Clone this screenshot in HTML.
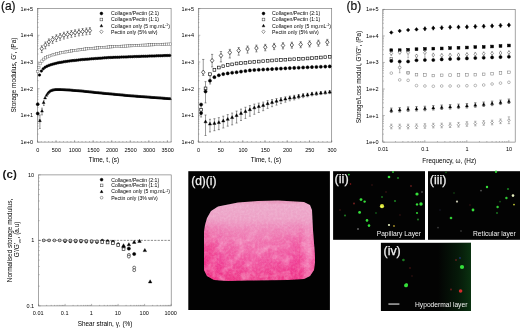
<!DOCTYPE html>
<html lang="en"><head><meta charset="utf-8"><title>Rheology and hydrogel figure</title>
<style>
html,body{margin:0;padding:0;background:#fff;}
body{width:520px;height:330px;overflow:hidden;}
svg{display:block;font-family:"Liberation Sans", sans-serif;}
</style></head><body>
<svg width="520" height="330" viewBox="0 0 520 330">
<defs>
<linearGradient id="pinkg" x1="0" y1="200" x2="0" y2="281" gradientUnits="userSpaceOnUse">
<stop offset="0" stop-color="#e48cb4"/><stop offset="0.06" stop-color="#eca8ca"/><stop offset="0.24" stop-color="#eda0c6"/>
<stop offset="0.36" stop-color="#ee84b8"/><stop offset="0.55" stop-color="#f068aa"/><stop offset="0.78" stop-color="#f04a9a"/><stop offset="1" stop-color="#ee3486"/>
</linearGradient>
<linearGradient id="pinkh" x1="204" y1="0" x2="316" y2="0" gradientUnits="userSpaceOnUse">
<stop offset="0" stop-color="#f01878" stop-opacity="0.5"/><stop offset="0.2" stop-color="#f01878" stop-opacity="0"/>
<stop offset="0.45" stop-color="#fff" stop-opacity="0.07"/><stop offset="0.7" stop-color="#f01878" stop-opacity="0"/>
<stop offset="0.86" stop-color="#f01878" stop-opacity="0.22"/><stop offset="0.93" stop-color="#fff" stop-opacity="0.22"/><stop offset="1" stop-color="#f01878" stop-opacity="0.25"/>
</linearGradient>
<linearGradient id="fm" x1="0" y1="218" x2="0" y2="246" gradientUnits="userSpaceOnUse"><stop offset="0" stop-color="#000"/><stop offset="1" stop-color="#fff"/></linearGradient>
<mask id="frontm" maskUnits="userSpaceOnUse" x="188" y="171" width="142" height="140"><rect x="188" y="171" width="142" height="140" fill="url(#fm)"/></mask>
<linearGradient id="haze" x1="438" y1="0" x2="471" y2="0" gradientUnits="userSpaceOnUse"><stop offset="0" stop-color="#0a3a12" stop-opacity="0"/><stop offset="0.6" stop-color="#0a3a12" stop-opacity="0.4"/><stop offset="1" stop-color="#0d4616" stop-opacity="0.7"/></linearGradient>
<filter id="pb" x="0" y="0" width="100%" height="100%" filterUnits="userSpaceOnUse"><feGaussianBlur stdDeviation="0.32"/></filter>
<filter id="soft" x="-5%" y="-5%" width="110%" height="110%"><feGaussianBlur stdDeviation="0.5"/></filter>
<filter id="glow" x="-5%" y="-5%" width="110%" height="110%"><feGaussianBlur stdDeviation="0.6"/></filter>
<filter id="mottle" x="0" y="0" width="100%" height="100%"><feTurbulence type="fractalNoise" baseFrequency="0.11" numOctaves="3" seed="9" result="n"/>
<feColorMatrix in="n" type="matrix" values="0 0 0 0 1  0 0 0 0 1  0 0 0 0 1  2.4 0 0 0 -1.05" result="a"/><feComposite in="a" in2="SourceGraphic" operator="in"/></filter>
<filter id="grain" x="0" y="0" width="100%" height="100%"><feTurbulence type="fractalNoise" baseFrequency="0.45" numOctaves="2" seed="4" result="n"/>
<feColorMatrix in="n" type="matrix" values="0 0 0 0 1  0 0 0 0 1  0 0 0 0 1  1.6 0 0 0 -0.55" result="a"/><feComposite in="a" in2="SourceGraphic" operator="in"/></filter>
</defs>
<g filter="url(#pb)">
<g id="plot-a-left">
<rect x="37.5" y="8.6" width="133.6" height="133.5" fill="none" stroke="#6e6e6e" stroke-width="0.62"/>
<text x="33" y="10.55" font-size="5.5" text-anchor="end" fill="#000">1e+5</text>
<text x="33" y="37.25" font-size="5.5" text-anchor="end" fill="#000">1e+4</text>
<text x="33" y="63.95" font-size="5.5" text-anchor="end" fill="#000">1e+3</text>
<text x="33" y="90.65" font-size="5.5" text-anchor="end" fill="#000">1e+2</text>
<text x="33" y="117.35" font-size="5.5" text-anchor="end" fill="#000">1e+1</text>
<text x="33" y="144.05" font-size="5.5" text-anchor="end" fill="#000">1e+0</text>
<path d="M37.5 8.6h2M37.5 35.3h2M37.5 62h2M37.5 88.7h2M37.5 115.4h2M37.5 142.1h2" stroke="#6e6e6e" stroke-width="0.5" fill="none"/>
<path d="M37.5 27.26h1M37.5 22.56h1M37.5 19.22h1M37.5 16.64h1M37.5 14.52h1M37.5 12.74h1M37.5 11.19h1M37.5 9.82h1M37.5 53.96h1M37.5 49.26h1M37.5 45.92h1M37.5 43.34h1M37.5 41.22h1M37.5 39.44h1M37.5 37.89h1M37.5 36.52h1M37.5 80.66h1M37.5 75.96h1M37.5 72.62h1M37.5 70.04h1M37.5 67.92h1M37.5 66.14h1M37.5 64.59h1M37.5 63.22h1M37.5 107.36h1M37.5 102.66h1M37.5 99.32h1M37.5 96.74h1M37.5 94.62h1M37.5 92.84h1M37.5 91.29h1M37.5 89.92h1M37.5 134.06h1M37.5 129.36h1M37.5 126.02h1M37.5 123.44h1M37.5 121.32h1M37.5 119.54h1M37.5 117.99h1M37.5 116.62h1" stroke="#6e6e6e" stroke-width="0.5" fill="none"/>
<text x="37.8" y="151.5" font-size="5.5" text-anchor="middle" fill="#000">0</text>
<text x="56.36" y="151.5" font-size="5.5" text-anchor="middle" fill="#000">500</text>
<text x="74.91" y="151.5" font-size="5.5" text-anchor="middle" fill="#000">1000</text>
<text x="93.47" y="151.5" font-size="5.5" text-anchor="middle" fill="#000">1500</text>
<text x="112.02" y="151.5" font-size="5.5" text-anchor="middle" fill="#000">2000</text>
<text x="130.58" y="151.5" font-size="5.5" text-anchor="middle" fill="#000">2500</text>
<text x="149.13" y="151.5" font-size="5.5" text-anchor="middle" fill="#000">3000</text>
<text x="167.69" y="151.5" font-size="5.5" text-anchor="middle" fill="#000">3500</text>
<path d="M37.5 142.1v-2M56.06 142.1v-2M74.61 142.1v-2M93.17 142.1v-2M111.72 142.1v-2M130.28 142.1v-2M148.83 142.1v-2M167.39 142.1v-2" stroke="#6e6e6e" stroke-width="0.5" fill="none"/>
<path d="M37.5 142.1v-1M41.21 142.1v-1M44.92 142.1v-1M48.63 142.1v-1M52.34 142.1v-1M56.06 142.1v-1M59.77 142.1v-1M63.48 142.1v-1M67.19 142.1v-1M70.9 142.1v-1M74.61 142.1v-1M78.32 142.1v-1M82.03 142.1v-1M85.74 142.1v-1M89.46 142.1v-1M93.17 142.1v-1M96.88 142.1v-1M100.59 142.1v-1M104.3 142.1v-1M108.01 142.1v-1M111.72 142.1v-1M115.43 142.1v-1M119.14 142.1v-1M122.86 142.1v-1M126.57 142.1v-1M130.28 142.1v-1M133.99 142.1v-1M137.7 142.1v-1M141.41 142.1v-1M145.12 142.1v-1M148.83 142.1v-1M152.54 142.1v-1M156.26 142.1v-1M159.97 142.1v-1M163.68 142.1v-1M167.39 142.1v-1M171.1 142.1v-1" stroke="#6e6e6e" stroke-width="0.5" fill="none"/>
<text x="104" y="162.3" font-size="6.4" text-anchor="middle" fill="#000">Time, t, (s)</text>
<text transform="translate(15.6 75) rotate(-90)" font-size="6.5" text-anchor="middle" fill="#000">Storage modulus, G', (Pa)</text>
<path d="M39.9 114.9V128.5M39.1 114.9h1.6M39.1 128.5h1.6" stroke="#333" stroke-width="0.5" fill="none"/>
<path d="M42 108.1V114.9M41.2 108.1h1.6M41.2 114.9h1.6" stroke="#333" stroke-width="0.5" fill="none"/>
<path d="M43.8 100.4V105.5M43 100.4h1.6M43 105.5h1.6" stroke="#333" stroke-width="0.5" fill="none"/>
<polygon points="38.45,121.67 41.35,121.67 39.9,119.06" fill="#000" stroke="#000" stroke-width="0.4"/><polygon points="40.55,112.07 43.45,112.07 42,109.46" fill="#000" stroke="#000" stroke-width="0.4"/><polygon points="42.15,103.61 45.05,103.61 43.6,101" fill="#000" stroke="#000" stroke-width="0.4"/><polygon points="43.65,98.92 46.55,98.92 45.1,96.31" fill="#000" stroke="#000" stroke-width="0.4"/><polygon points="45.1,96.32 47.7,96.32 46.4,93.98" fill="#000" stroke="#000" stroke-width="0.4"/><polygon points="46.03,94.84 48.63,94.84 47.33,92.5" fill="#000" stroke="#000" stroke-width="0.4"/><polygon points="46.96,93.54 49.56,93.54 48.26,91.2" fill="#000" stroke="#000" stroke-width="0.4"/><polygon points="47.89,92.74 50.49,92.74 49.19,90.4" fill="#000" stroke="#000" stroke-width="0.4"/><polygon points="48.82,91.95 51.42,91.95 50.12,89.61" fill="#000" stroke="#000" stroke-width="0.4"/><polygon points="49.75,91.57 52.35,91.57 51.05,89.23" fill="#000" stroke="#000" stroke-width="0.4"/><polygon points="50.68,91.2 53.28,91.2 51.98,88.86" fill="#000" stroke="#000" stroke-width="0.4"/><polygon points="51.61,90.9 54.21,90.9 52.91,88.56" fill="#000" stroke="#000" stroke-width="0.4"/><polygon points="52.54,90.76 55.14,90.76 53.84,88.42" fill="#000" stroke="#000" stroke-width="0.4"/><polygon points="53.47,90.61 56.07,90.61 54.77,88.27" fill="#000" stroke="#000" stroke-width="0.4"/><polygon points="54.4,90.46 57,90.46 55.7,88.12" fill="#000" stroke="#000" stroke-width="0.4"/><polygon points="55.33,90.45 57.93,90.45 56.63,88.11" fill="#000" stroke="#000" stroke-width="0.4"/><polygon points="56.26,90.45 58.86,90.45 57.56,88.11" fill="#000" stroke="#000" stroke-width="0.4"/><polygon points="57.19,90.45 59.79,90.45 58.49,88.11" fill="#000" stroke="#000" stroke-width="0.4"/><polygon points="58.12,90.45 60.72,90.45 59.42,88.11" fill="#000" stroke="#000" stroke-width="0.4"/><polygon points="59.05,90.45 61.65,90.45 60.35,88.11" fill="#000" stroke="#000" stroke-width="0.4"/><polygon points="59.98,90.48 62.58,90.48 61.28,88.14" fill="#000" stroke="#000" stroke-width="0.4"/><polygon points="60.91,90.54 63.51,90.54 62.21,88.2" fill="#000" stroke="#000" stroke-width="0.4"/><polygon points="61.84,90.59 64.44,90.59 63.14,88.25" fill="#000" stroke="#000" stroke-width="0.4"/><polygon points="62.77,90.64 65.37,90.64 64.07,88.3" fill="#000" stroke="#000" stroke-width="0.4"/><polygon points="63.7,90.7 66.3,90.7 65,88.36" fill="#000" stroke="#000" stroke-width="0.4"/><polygon points="64.63,90.75 67.23,90.75 65.93,88.41" fill="#000" stroke="#000" stroke-width="0.4"/><polygon points="65.56,90.8 68.16,90.8 66.86,88.46" fill="#000" stroke="#000" stroke-width="0.4"/><polygon points="66.49,90.86 69.09,90.86 67.79,88.52" fill="#000" stroke="#000" stroke-width="0.4"/><polygon points="67.42,90.91 70.02,90.91 68.72,88.57" fill="#000" stroke="#000" stroke-width="0.4"/><polygon points="68.35,90.97 70.95,90.97 69.65,88.62" fill="#000" stroke="#000" stroke-width="0.4"/><polygon points="69.28,91.04 71.88,91.04 70.58,88.7" fill="#000" stroke="#000" stroke-width="0.4"/><polygon points="70.21,91.11 72.81,91.11 71.51,88.77" fill="#000" stroke="#000" stroke-width="0.4"/><polygon points="71.14,91.19 73.74,91.19 72.44,88.85" fill="#000" stroke="#000" stroke-width="0.4"/><polygon points="72.07,91.26 74.67,91.26 73.37,88.92" fill="#000" stroke="#000" stroke-width="0.4"/><polygon points="73,91.34 75.6,91.34 74.3,89" fill="#000" stroke="#000" stroke-width="0.4"/><polygon points="73.93,91.41 76.53,91.41 75.23,89.07" fill="#000" stroke="#000" stroke-width="0.4"/><polygon points="74.86,91.49 77.46,91.49 76.16,89.15" fill="#000" stroke="#000" stroke-width="0.4"/><polygon points="75.79,91.56 78.39,91.56 77.09,89.22" fill="#000" stroke="#000" stroke-width="0.4"/><polygon points="76.72,91.63 79.32,91.63 78.02,89.29" fill="#000" stroke="#000" stroke-width="0.4"/><polygon points="77.65,91.71 80.25,91.71 78.95,89.37" fill="#000" stroke="#000" stroke-width="0.4"/><polygon points="78.58,91.78 81.18,91.78 79.88,89.44" fill="#000" stroke="#000" stroke-width="0.4"/><polygon points="79.51,91.86 82.11,91.86 80.81,89.52" fill="#000" stroke="#000" stroke-width="0.4"/><polygon points="80.44,91.93 83.04,91.93 81.74,89.59" fill="#000" stroke="#000" stroke-width="0.4"/><polygon points="81.37,92.02 83.97,92.02 82.67,89.68" fill="#000" stroke="#000" stroke-width="0.4"/><polygon points="82.3,92.12 84.9,92.12 83.6,89.78" fill="#000" stroke="#000" stroke-width="0.4"/><polygon points="83.23,92.22 85.83,92.22 84.53,89.88" fill="#000" stroke="#000" stroke-width="0.4"/><polygon points="84.16,92.32 86.76,92.32 85.46,89.98" fill="#000" stroke="#000" stroke-width="0.4"/><polygon points="85.09,92.42 87.69,92.42 86.39,90.08" fill="#000" stroke="#000" stroke-width="0.4"/><polygon points="86.02,92.52 88.62,92.52 87.32,90.18" fill="#000" stroke="#000" stroke-width="0.4"/><polygon points="86.95,92.62 89.55,92.62 88.25,90.28" fill="#000" stroke="#000" stroke-width="0.4"/><polygon points="87.88,92.72 90.48,92.72 89.18,90.38" fill="#000" stroke="#000" stroke-width="0.4"/><polygon points="88.81,92.82 91.41,92.82 90.11,90.48" fill="#000" stroke="#000" stroke-width="0.4"/><polygon points="89.74,92.92 92.34,92.92 91.04,90.58" fill="#000" stroke="#000" stroke-width="0.4"/><polygon points="90.67,93.02 93.27,93.02 91.97,90.68" fill="#000" stroke="#000" stroke-width="0.4"/><polygon points="91.6,93.12 94.2,93.12 92.9,90.78" fill="#000" stroke="#000" stroke-width="0.4"/><polygon points="92.53,93.21 95.13,93.21 93.83,90.87" fill="#000" stroke="#000" stroke-width="0.4"/><polygon points="93.46,93.31 96.06,93.31 94.76,90.97" fill="#000" stroke="#000" stroke-width="0.4"/><polygon points="94.39,93.41 96.99,93.41 95.69,91.07" fill="#000" stroke="#000" stroke-width="0.4"/><polygon points="95.32,93.51 97.92,93.51 96.62,91.17" fill="#000" stroke="#000" stroke-width="0.4"/><polygon points="96.25,93.6 98.85,93.6 97.55,91.26" fill="#000" stroke="#000" stroke-width="0.4"/><polygon points="97.18,93.69 99.78,93.69 98.48,91.35" fill="#000" stroke="#000" stroke-width="0.4"/><polygon points="98.11,93.78 100.71,93.78 99.41,91.44" fill="#000" stroke="#000" stroke-width="0.4"/><polygon points="99.04,93.87 101.64,93.87 100.34,91.53" fill="#000" stroke="#000" stroke-width="0.4"/><polygon points="99.97,93.95 102.57,93.95 101.27,91.61" fill="#000" stroke="#000" stroke-width="0.4"/><polygon points="100.9,94.04 103.5,94.04 102.2,91.7" fill="#000" stroke="#000" stroke-width="0.4"/><polygon points="101.83,94.13 104.43,94.13 103.13,91.79" fill="#000" stroke="#000" stroke-width="0.4"/><polygon points="102.76,94.22 105.36,94.22 104.06,91.88" fill="#000" stroke="#000" stroke-width="0.4"/><polygon points="103.69,94.3 106.29,94.3 104.99,91.96" fill="#000" stroke="#000" stroke-width="0.4"/><polygon points="104.62,94.39 107.22,94.39 105.92,92.05" fill="#000" stroke="#000" stroke-width="0.4"/><polygon points="105.55,94.48 108.15,94.48 106.85,92.14" fill="#000" stroke="#000" stroke-width="0.4"/><polygon points="106.48,94.57 109.08,94.57 107.78,92.23" fill="#000" stroke="#000" stroke-width="0.4"/><polygon points="107.41,94.65 110.01,94.65 108.71,92.31" fill="#000" stroke="#000" stroke-width="0.4"/><polygon points="108.34,94.74 110.94,94.74 109.64,92.4" fill="#000" stroke="#000" stroke-width="0.4"/><polygon points="109.27,94.83 111.87,94.83 110.57,92.49" fill="#000" stroke="#000" stroke-width="0.4"/><polygon points="110.2,94.92 112.8,94.92 111.5,92.58" fill="#000" stroke="#000" stroke-width="0.4"/><polygon points="111.13,95 113.73,95 112.43,92.66" fill="#000" stroke="#000" stroke-width="0.4"/><polygon points="112.06,95.09 114.66,95.09 113.36,92.75" fill="#000" stroke="#000" stroke-width="0.4"/><polygon points="112.99,95.18 115.59,95.18 114.29,92.84" fill="#000" stroke="#000" stroke-width="0.4"/><polygon points="113.92,95.26 116.52,95.26 115.22,92.92" fill="#000" stroke="#000" stroke-width="0.4"/><polygon points="114.85,95.35 117.45,95.35 116.15,93.01" fill="#000" stroke="#000" stroke-width="0.4"/><polygon points="115.78,95.44 118.38,95.44 117.08,93.1" fill="#000" stroke="#000" stroke-width="0.4"/><polygon points="116.71,95.53 119.31,95.53 118.01,93.19" fill="#000" stroke="#000" stroke-width="0.4"/><polygon points="117.64,95.61 120.24,95.61 118.94,93.27" fill="#000" stroke="#000" stroke-width="0.4"/><polygon points="118.57,95.7 121.17,95.7 119.87,93.36" fill="#000" stroke="#000" stroke-width="0.4"/><polygon points="119.5,95.79 122.1,95.79 120.8,93.45" fill="#000" stroke="#000" stroke-width="0.4"/><polygon points="120.43,95.88 123.03,95.88 121.73,93.54" fill="#000" stroke="#000" stroke-width="0.4"/><polygon points="121.36,95.96 123.96,95.96 122.66,93.62" fill="#000" stroke="#000" stroke-width="0.4"/><polygon points="122.29,96.05 124.89,96.05 123.59,93.71" fill="#000" stroke="#000" stroke-width="0.4"/><polygon points="123.22,96.14 125.82,96.14 124.52,93.8" fill="#000" stroke="#000" stroke-width="0.4"/><polygon points="124.15,96.23 126.75,96.23 125.45,93.89" fill="#000" stroke="#000" stroke-width="0.4"/><polygon points="125.08,96.31 127.68,96.31 126.38,93.97" fill="#000" stroke="#000" stroke-width="0.4"/><polygon points="126.01,96.4 128.61,96.4 127.31,94.06" fill="#000" stroke="#000" stroke-width="0.4"/><polygon points="126.94,96.49 129.54,96.49 128.24,94.15" fill="#000" stroke="#000" stroke-width="0.4"/><polygon points="127.87,96.58 130.47,96.58 129.17,94.24" fill="#000" stroke="#000" stroke-width="0.4"/><polygon points="128.8,96.66 131.4,96.66 130.1,94.32" fill="#000" stroke="#000" stroke-width="0.4"/><polygon points="129.73,96.73 132.33,96.73 131.03,94.39" fill="#000" stroke="#000" stroke-width="0.4"/><polygon points="130.66,96.8 133.26,96.8 131.96,94.46" fill="#000" stroke="#000" stroke-width="0.4"/><polygon points="131.59,96.87 134.19,96.87 132.89,94.53" fill="#000" stroke="#000" stroke-width="0.4"/><polygon points="132.52,96.94 135.12,96.94 133.82,94.6" fill="#000" stroke="#000" stroke-width="0.4"/><polygon points="133.45,97 136.05,97 134.75,94.66" fill="#000" stroke="#000" stroke-width="0.4"/><polygon points="134.38,97.07 136.98,97.07 135.68,94.73" fill="#000" stroke="#000" stroke-width="0.4"/><polygon points="135.31,97.14 137.91,97.14 136.61,94.8" fill="#000" stroke="#000" stroke-width="0.4"/><polygon points="136.24,97.21 138.84,97.21 137.54,94.87" fill="#000" stroke="#000" stroke-width="0.4"/><polygon points="137.17,97.28 139.77,97.28 138.47,94.94" fill="#000" stroke="#000" stroke-width="0.4"/><polygon points="138.1,97.35 140.7,97.35 139.4,95.01" fill="#000" stroke="#000" stroke-width="0.4"/><polygon points="139.03,97.42 141.63,97.42 140.33,95.08" fill="#000" stroke="#000" stroke-width="0.4"/><polygon points="139.96,97.49 142.56,97.49 141.26,95.15" fill="#000" stroke="#000" stroke-width="0.4"/><polygon points="140.89,97.56 143.49,97.56 142.19,95.22" fill="#000" stroke="#000" stroke-width="0.4"/><polygon points="141.82,97.62 144.42,97.62 143.12,95.28" fill="#000" stroke="#000" stroke-width="0.4"/><polygon points="142.75,97.69 145.35,97.69 144.05,95.35" fill="#000" stroke="#000" stroke-width="0.4"/><polygon points="143.68,97.76 146.28,97.76 144.98,95.42" fill="#000" stroke="#000" stroke-width="0.4"/><polygon points="144.61,97.83 147.21,97.83 145.91,95.49" fill="#000" stroke="#000" stroke-width="0.4"/><polygon points="145.54,97.9 148.14,97.9 146.84,95.56" fill="#000" stroke="#000" stroke-width="0.4"/><polygon points="146.47,97.97 149.07,97.97 147.77,95.63" fill="#000" stroke="#000" stroke-width="0.4"/><polygon points="147.4,98.04 150,98.04 148.7,95.7" fill="#000" stroke="#000" stroke-width="0.4"/><polygon points="148.33,98.11 150.93,98.11 149.63,95.77" fill="#000" stroke="#000" stroke-width="0.4"/><polygon points="149.26,98.18 151.86,98.18 150.56,95.84" fill="#000" stroke="#000" stroke-width="0.4"/><polygon points="150.19,98.24 152.79,98.24 151.49,95.9" fill="#000" stroke="#000" stroke-width="0.4"/><polygon points="151.12,98.31 153.72,98.31 152.42,95.97" fill="#000" stroke="#000" stroke-width="0.4"/><polygon points="152.05,98.38 154.65,98.38 153.35,96.04" fill="#000" stroke="#000" stroke-width="0.4"/><polygon points="152.98,98.45 155.58,98.45 154.28,96.11" fill="#000" stroke="#000" stroke-width="0.4"/><polygon points="153.91,98.52 156.51,98.52 155.21,96.18" fill="#000" stroke="#000" stroke-width="0.4"/><polygon points="154.84,98.59 157.44,98.59 156.14,96.25" fill="#000" stroke="#000" stroke-width="0.4"/><polygon points="155.77,98.66 158.37,98.66 157.07,96.32" fill="#000" stroke="#000" stroke-width="0.4"/><polygon points="156.7,98.73 159.3,98.73 158,96.39" fill="#000" stroke="#000" stroke-width="0.4"/><polygon points="157.63,98.8 160.23,98.8 158.93,96.46" fill="#000" stroke="#000" stroke-width="0.4"/><polygon points="158.56,98.86 161.16,98.86 159.86,96.52" fill="#000" stroke="#000" stroke-width="0.4"/><polygon points="159.49,98.93 162.09,98.93 160.79,96.59" fill="#000" stroke="#000" stroke-width="0.4"/><polygon points="160.42,99 163.02,99 161.72,96.66" fill="#000" stroke="#000" stroke-width="0.4"/><polygon points="161.35,99.07 163.95,99.07 162.65,96.73" fill="#000" stroke="#000" stroke-width="0.4"/><polygon points="162.28,99.14 164.88,99.14 163.58,96.8" fill="#000" stroke="#000" stroke-width="0.4"/><polygon points="163.21,99.21 165.81,99.21 164.51,96.87" fill="#000" stroke="#000" stroke-width="0.4"/><polygon points="164.14,99.28 166.74,99.28 165.44,96.94" fill="#000" stroke="#000" stroke-width="0.4"/><polygon points="165.07,99.35 167.67,99.35 166.37,97.01" fill="#000" stroke="#000" stroke-width="0.4"/><polygon points="166,99.42 168.6,99.42 167.3,97.08" fill="#000" stroke="#000" stroke-width="0.4"/><polygon points="166.93,99.48 169.53,99.48 168.23,97.14" fill="#000" stroke="#000" stroke-width="0.4"/><polygon points="167.86,99.55 170.46,99.55 169.16,97.21" fill="#000" stroke="#000" stroke-width="0.4"/><polygon points="168.79,99.62 171.39,99.62 170.09,97.28" fill="#000" stroke="#000" stroke-width="0.4"/>
<circle cx="37.7" cy="113.4" r="1.5" fill="#000" stroke="#000" stroke-width="0.5"/>
<circle cx="37.7" cy="104.2" r="1.5" fill="#000" stroke="#000" stroke-width="0.5"/>
<circle cx="39.5" cy="75" r="1.25" fill="#000" stroke="#000" stroke-width="0.5"/><circle cx="41.36" cy="71.08" r="1.25" fill="#000" stroke="#000" stroke-width="0.5"/><circle cx="43.22" cy="68.87" r="1.25" fill="#000" stroke="#000" stroke-width="0.5"/><circle cx="45.08" cy="67.27" r="1.25" fill="#000" stroke="#000" stroke-width="0.5"/><circle cx="46.94" cy="66.29" r="1.25" fill="#000" stroke="#000" stroke-width="0.5"/><circle cx="48.8" cy="65.42" r="1.25" fill="#000" stroke="#000" stroke-width="0.5"/><circle cx="50.66" cy="64.83" r="1.25" fill="#000" stroke="#000" stroke-width="0.5"/><circle cx="52.52" cy="64.23" r="1.25" fill="#000" stroke="#000" stroke-width="0.5"/><circle cx="54.38" cy="63.73" r="1.25" fill="#000" stroke="#000" stroke-width="0.5"/><circle cx="56.24" cy="63.28" r="1.25" fill="#000" stroke="#000" stroke-width="0.5"/><circle cx="58.1" cy="62.84" r="1.25" fill="#000" stroke="#000" stroke-width="0.5"/><circle cx="59.96" cy="62.43" r="1.25" fill="#000" stroke="#000" stroke-width="0.5"/><circle cx="61.82" cy="62.15" r="1.25" fill="#000" stroke="#000" stroke-width="0.5"/><circle cx="63.68" cy="61.87" r="1.25" fill="#000" stroke="#000" stroke-width="0.5"/><circle cx="65.54" cy="61.59" r="1.25" fill="#000" stroke="#000" stroke-width="0.5"/><circle cx="67.4" cy="61.31" r="1.25" fill="#000" stroke="#000" stroke-width="0.5"/><circle cx="69.26" cy="61.04" r="1.25" fill="#000" stroke="#000" stroke-width="0.5"/><circle cx="71.12" cy="60.82" r="1.25" fill="#000" stroke="#000" stroke-width="0.5"/><circle cx="72.98" cy="60.61" r="1.25" fill="#000" stroke="#000" stroke-width="0.5"/><circle cx="74.84" cy="60.4" r="1.25" fill="#000" stroke="#000" stroke-width="0.5"/><circle cx="76.7" cy="60.19" r="1.25" fill="#000" stroke="#000" stroke-width="0.5"/><circle cx="78.56" cy="59.99" r="1.25" fill="#000" stroke="#000" stroke-width="0.5"/><circle cx="80.42" cy="59.78" r="1.25" fill="#000" stroke="#000" stroke-width="0.5"/><circle cx="82.28" cy="59.58" r="1.25" fill="#000" stroke="#000" stroke-width="0.5"/><circle cx="84.14" cy="59.43" r="1.25" fill="#000" stroke="#000" stroke-width="0.5"/><circle cx="86" cy="59.28" r="1.25" fill="#000" stroke="#000" stroke-width="0.5"/><circle cx="87.86" cy="59.13" r="1.25" fill="#000" stroke="#000" stroke-width="0.5"/><circle cx="89.72" cy="58.98" r="1.25" fill="#000" stroke="#000" stroke-width="0.5"/><circle cx="91.58" cy="58.83" r="1.25" fill="#000" stroke="#000" stroke-width="0.5"/><circle cx="93.44" cy="58.68" r="1.25" fill="#000" stroke="#000" stroke-width="0.5"/><circle cx="95.3" cy="58.54" r="1.25" fill="#000" stroke="#000" stroke-width="0.5"/><circle cx="97.16" cy="58.39" r="1.25" fill="#000" stroke="#000" stroke-width="0.5"/><circle cx="99.02" cy="58.26" r="1.25" fill="#000" stroke="#000" stroke-width="0.5"/><circle cx="100.88" cy="58.13" r="1.25" fill="#000" stroke="#000" stroke-width="0.5"/><circle cx="102.74" cy="58" r="1.25" fill="#000" stroke="#000" stroke-width="0.5"/><circle cx="104.6" cy="57.87" r="1.25" fill="#000" stroke="#000" stroke-width="0.5"/><circle cx="106.46" cy="57.75" r="1.25" fill="#000" stroke="#000" stroke-width="0.5"/><circle cx="108.32" cy="57.62" r="1.25" fill="#000" stroke="#000" stroke-width="0.5"/><circle cx="110.18" cy="57.49" r="1.25" fill="#000" stroke="#000" stroke-width="0.5"/><circle cx="112.04" cy="57.43" r="1.25" fill="#000" stroke="#000" stroke-width="0.5"/><circle cx="113.9" cy="57.36" r="1.25" fill="#000" stroke="#000" stroke-width="0.5"/><circle cx="115.76" cy="57.29" r="1.25" fill="#000" stroke="#000" stroke-width="0.5"/><circle cx="117.62" cy="57.22" r="1.25" fill="#000" stroke="#000" stroke-width="0.5"/><circle cx="119.48" cy="57.15" r="1.25" fill="#000" stroke="#000" stroke-width="0.5"/><circle cx="121.34" cy="57.08" r="1.25" fill="#000" stroke="#000" stroke-width="0.5"/><circle cx="123.2" cy="57.02" r="1.25" fill="#000" stroke="#000" stroke-width="0.5"/><circle cx="125.06" cy="56.95" r="1.25" fill="#000" stroke="#000" stroke-width="0.5"/><circle cx="126.92" cy="56.88" r="1.25" fill="#000" stroke="#000" stroke-width="0.5"/><circle cx="128.78" cy="56.81" r="1.25" fill="#000" stroke="#000" stroke-width="0.5"/><circle cx="130.64" cy="56.74" r="1.25" fill="#000" stroke="#000" stroke-width="0.5"/><circle cx="132.5" cy="56.67" r="1.25" fill="#000" stroke="#000" stroke-width="0.5"/><circle cx="134.36" cy="56.61" r="1.25" fill="#000" stroke="#000" stroke-width="0.5"/><circle cx="136.22" cy="56.54" r="1.25" fill="#000" stroke="#000" stroke-width="0.5"/><circle cx="138.08" cy="56.47" r="1.25" fill="#000" stroke="#000" stroke-width="0.5"/><circle cx="139.94" cy="56.4" r="1.25" fill="#000" stroke="#000" stroke-width="0.5"/><circle cx="141.8" cy="56.34" r="1.25" fill="#000" stroke="#000" stroke-width="0.5"/><circle cx="143.66" cy="56.28" r="1.25" fill="#000" stroke="#000" stroke-width="0.5"/><circle cx="145.52" cy="56.22" r="1.25" fill="#000" stroke="#000" stroke-width="0.5"/><circle cx="147.38" cy="56.16" r="1.25" fill="#000" stroke="#000" stroke-width="0.5"/><circle cx="149.24" cy="56.1" r="1.25" fill="#000" stroke="#000" stroke-width="0.5"/><circle cx="151.1" cy="56.04" r="1.25" fill="#000" stroke="#000" stroke-width="0.5"/><circle cx="152.96" cy="55.98" r="1.25" fill="#000" stroke="#000" stroke-width="0.5"/><circle cx="154.82" cy="55.92" r="1.25" fill="#000" stroke="#000" stroke-width="0.5"/><circle cx="156.68" cy="55.86" r="1.25" fill="#000" stroke="#000" stroke-width="0.5"/><circle cx="158.54" cy="55.8" r="1.25" fill="#000" stroke="#000" stroke-width="0.5"/><circle cx="160.4" cy="55.74" r="1.25" fill="#000" stroke="#000" stroke-width="0.5"/><circle cx="162.26" cy="55.68" r="1.25" fill="#000" stroke="#000" stroke-width="0.5"/><circle cx="164.12" cy="55.62" r="1.25" fill="#000" stroke="#000" stroke-width="0.5"/><circle cx="165.98" cy="55.56" r="1.25" fill="#000" stroke="#000" stroke-width="0.5"/><circle cx="167.84" cy="55.5" r="1.25" fill="#000" stroke="#000" stroke-width="0.5"/><circle cx="169.7" cy="55.44" r="1.25" fill="#000" stroke="#000" stroke-width="0.5"/>
<rect x="36.65" y="70.37" width="2.3" height="2.3" fill="#fff" stroke="#555" stroke-width="0.4"/><rect x="37.75" y="66.35" width="2.3" height="2.3" fill="#fff" stroke="#555" stroke-width="0.4"/><rect x="38.95" y="62.6" width="2.3" height="2.3" fill="#fff" stroke="#555" stroke-width="0.4"/><rect x="40.81" y="59.91" width="2.3" height="2.3" fill="#fff" stroke="#555" stroke-width="0.4"/><rect x="42.67" y="58.03" width="2.3" height="2.3" fill="#fff" stroke="#555" stroke-width="0.4"/><rect x="44.53" y="56.72" width="2.3" height="2.3" fill="#fff" stroke="#555" stroke-width="0.4"/><rect x="46.39" y="55.73" width="2.3" height="2.3" fill="#fff" stroke="#555" stroke-width="0.4"/><rect x="48.25" y="54.95" width="2.3" height="2.3" fill="#fff" stroke="#555" stroke-width="0.4"/><rect x="50.11" y="54.3" width="2.3" height="2.3" fill="#fff" stroke="#555" stroke-width="0.4"/><rect x="51.97" y="53.65" width="2.3" height="2.3" fill="#fff" stroke="#555" stroke-width="0.4"/><rect x="53.83" y="53.14" width="2.3" height="2.3" fill="#fff" stroke="#555" stroke-width="0.4"/><rect x="55.69" y="52.65" width="2.3" height="2.3" fill="#fff" stroke="#555" stroke-width="0.4"/><rect x="57.55" y="52.16" width="2.3" height="2.3" fill="#fff" stroke="#555" stroke-width="0.4"/><rect x="59.41" y="51.75" width="2.3" height="2.3" fill="#fff" stroke="#555" stroke-width="0.4"/><rect x="61.27" y="51.41" width="2.3" height="2.3" fill="#fff" stroke="#555" stroke-width="0.4"/><rect x="63.13" y="51.07" width="2.3" height="2.3" fill="#fff" stroke="#555" stroke-width="0.4"/><rect x="64.99" y="50.72" width="2.3" height="2.3" fill="#fff" stroke="#555" stroke-width="0.4"/><rect x="66.85" y="50.38" width="2.3" height="2.3" fill="#fff" stroke="#555" stroke-width="0.4"/><rect x="68.71" y="50.05" width="2.3" height="2.3" fill="#fff" stroke="#555" stroke-width="0.4"/><rect x="70.57" y="49.78" width="2.3" height="2.3" fill="#fff" stroke="#555" stroke-width="0.4"/><rect x="72.43" y="49.51" width="2.3" height="2.3" fill="#fff" stroke="#555" stroke-width="0.4"/><rect x="74.29" y="49.24" width="2.3" height="2.3" fill="#fff" stroke="#555" stroke-width="0.4"/><rect x="76.15" y="48.97" width="2.3" height="2.3" fill="#fff" stroke="#555" stroke-width="0.4"/><rect x="78.01" y="48.7" width="2.3" height="2.3" fill="#fff" stroke="#555" stroke-width="0.4"/><rect x="79.87" y="48.43" width="2.3" height="2.3" fill="#fff" stroke="#555" stroke-width="0.4"/><rect x="81.73" y="48.16" width="2.3" height="2.3" fill="#fff" stroke="#555" stroke-width="0.4"/><rect x="83.59" y="47.89" width="2.3" height="2.3" fill="#fff" stroke="#555" stroke-width="0.4"/><rect x="85.45" y="47.72" width="2.3" height="2.3" fill="#fff" stroke="#555" stroke-width="0.4"/><rect x="87.31" y="47.56" width="2.3" height="2.3" fill="#fff" stroke="#555" stroke-width="0.4"/><rect x="89.17" y="47.4" width="2.3" height="2.3" fill="#fff" stroke="#555" stroke-width="0.4"/><rect x="91.03" y="47.25" width="2.3" height="2.3" fill="#fff" stroke="#555" stroke-width="0.4"/><rect x="92.89" y="47.09" width="2.3" height="2.3" fill="#fff" stroke="#555" stroke-width="0.4"/><rect x="94.75" y="46.93" width="2.3" height="2.3" fill="#fff" stroke="#555" stroke-width="0.4"/><rect x="96.61" y="46.78" width="2.3" height="2.3" fill="#fff" stroke="#555" stroke-width="0.4"/><rect x="98.47" y="46.62" width="2.3" height="2.3" fill="#fff" stroke="#555" stroke-width="0.4"/><rect x="100.33" y="46.47" width="2.3" height="2.3" fill="#fff" stroke="#555" stroke-width="0.4"/><rect x="102.19" y="46.31" width="2.3" height="2.3" fill="#fff" stroke="#555" stroke-width="0.4"/><rect x="104.05" y="46.15" width="2.3" height="2.3" fill="#fff" stroke="#555" stroke-width="0.4"/><rect x="105.91" y="46" width="2.3" height="2.3" fill="#fff" stroke="#555" stroke-width="0.4"/><rect x="107.77" y="45.84" width="2.3" height="2.3" fill="#fff" stroke="#555" stroke-width="0.4"/><rect x="109.63" y="45.71" width="2.3" height="2.3" fill="#fff" stroke="#555" stroke-width="0.4"/><rect x="111.49" y="45.61" width="2.3" height="2.3" fill="#fff" stroke="#555" stroke-width="0.4"/><rect x="113.35" y="45.51" width="2.3" height="2.3" fill="#fff" stroke="#555" stroke-width="0.4"/><rect x="115.21" y="45.41" width="2.3" height="2.3" fill="#fff" stroke="#555" stroke-width="0.4"/><rect x="117.07" y="45.31" width="2.3" height="2.3" fill="#fff" stroke="#555" stroke-width="0.4"/><rect x="118.93" y="45.21" width="2.3" height="2.3" fill="#fff" stroke="#555" stroke-width="0.4"/><rect x="120.79" y="45.11" width="2.3" height="2.3" fill="#fff" stroke="#555" stroke-width="0.4"/><rect x="122.65" y="45.01" width="2.3" height="2.3" fill="#fff" stroke="#555" stroke-width="0.4"/><rect x="124.51" y="44.91" width="2.3" height="2.3" fill="#fff" stroke="#555" stroke-width="0.4"/><rect x="126.37" y="44.82" width="2.3" height="2.3" fill="#fff" stroke="#555" stroke-width="0.4"/><rect x="128.23" y="44.72" width="2.3" height="2.3" fill="#fff" stroke="#555" stroke-width="0.4"/><rect x="130.09" y="44.62" width="2.3" height="2.3" fill="#fff" stroke="#555" stroke-width="0.4"/><rect x="131.95" y="44.52" width="2.3" height="2.3" fill="#fff" stroke="#555" stroke-width="0.4"/><rect x="133.81" y="44.42" width="2.3" height="2.3" fill="#fff" stroke="#555" stroke-width="0.4"/><rect x="135.67" y="44.32" width="2.3" height="2.3" fill="#fff" stroke="#555" stroke-width="0.4"/><rect x="137.53" y="44.22" width="2.3" height="2.3" fill="#fff" stroke="#555" stroke-width="0.4"/><rect x="139.39" y="44.13" width="2.3" height="2.3" fill="#fff" stroke="#555" stroke-width="0.4"/><rect x="141.25" y="44.05" width="2.3" height="2.3" fill="#fff" stroke="#555" stroke-width="0.4"/><rect x="143.11" y="43.97" width="2.3" height="2.3" fill="#fff" stroke="#555" stroke-width="0.4"/><rect x="144.97" y="43.89" width="2.3" height="2.3" fill="#fff" stroke="#555" stroke-width="0.4"/><rect x="146.83" y="43.82" width="2.3" height="2.3" fill="#fff" stroke="#555" stroke-width="0.4"/><rect x="148.69" y="43.74" width="2.3" height="2.3" fill="#fff" stroke="#555" stroke-width="0.4"/><rect x="150.55" y="43.66" width="2.3" height="2.3" fill="#fff" stroke="#555" stroke-width="0.4"/><rect x="152.41" y="43.58" width="2.3" height="2.3" fill="#fff" stroke="#555" stroke-width="0.4"/><rect x="154.27" y="43.5" width="2.3" height="2.3" fill="#fff" stroke="#555" stroke-width="0.4"/><rect x="156.13" y="43.43" width="2.3" height="2.3" fill="#fff" stroke="#555" stroke-width="0.4"/><rect x="157.99" y="43.35" width="2.3" height="2.3" fill="#fff" stroke="#555" stroke-width="0.4"/><rect x="159.85" y="43.27" width="2.3" height="2.3" fill="#fff" stroke="#555" stroke-width="0.4"/><rect x="161.71" y="43.19" width="2.3" height="2.3" fill="#fff" stroke="#555" stroke-width="0.4"/><rect x="163.57" y="43.11" width="2.3" height="2.3" fill="#fff" stroke="#555" stroke-width="0.4"/><rect x="165.43" y="43.04" width="2.3" height="2.3" fill="#fff" stroke="#555" stroke-width="0.4"/><rect x="167.29" y="42.96" width="2.3" height="2.3" fill="#fff" stroke="#555" stroke-width="0.4"/><rect x="169.15" y="42.88" width="2.3" height="2.3" fill="#fff" stroke="#555" stroke-width="0.4"/>
<path d="M41.75 45.75V52.55M40.75 45.75h2M40.75 52.55h2" stroke="#333" stroke-width="0.5" fill="none"/>
<path d="M45.4 42V48.8M44.4 42h2M44.4 48.8h2" stroke="#333" stroke-width="0.5" fill="none"/>
<path d="M48.9 38.9V45.7M47.9 38.9h2M47.9 45.7h2" stroke="#333" stroke-width="0.5" fill="none"/>
<path d="M52.6 36.6V43.4M51.6 36.6h2M51.6 43.4h2" stroke="#333" stroke-width="0.5" fill="none"/>
<path d="M56.4 34.75V41.55M55.4 34.75h2M55.4 41.55h2" stroke="#333" stroke-width="0.5" fill="none"/>
<path d="M60.1 33.5V40.3M59.1 33.5h2M59.1 40.3h2" stroke="#333" stroke-width="0.5" fill="none"/>
<path d="M63.9 32.25V39.05M62.9 32.25h2M62.9 39.05h2" stroke="#333" stroke-width="0.5" fill="none"/>
<path d="M67.6 31.4V38.2M66.6 31.4h2M66.6 38.2h2" stroke="#333" stroke-width="0.5" fill="none"/>
<path d="M71.4 30.5V37.3M70.4 30.5h2M70.4 37.3h2" stroke="#333" stroke-width="0.5" fill="none"/>
<path d="M75.1 29.75V36.55M74.1 29.75h2M74.1 36.55h2" stroke="#333" stroke-width="0.5" fill="none"/>
<path d="M78.9 29.1V35.9M77.9 29.1h2M77.9 35.9h2" stroke="#333" stroke-width="0.5" fill="none"/>
<path d="M82.6 28.5V35.3M81.6 28.5h2M81.6 35.3h2" stroke="#333" stroke-width="0.5" fill="none"/>
<path d="M86.4 28V34.8M85.4 28h2M85.4 34.8h2" stroke="#333" stroke-width="0.5" fill="none"/>
<path d="M89.9 27.6V34.4M88.9 27.6h2M88.9 34.4h2" stroke="#333" stroke-width="0.5" fill="none"/>
<polygon points="41.75,46.65 43.45,48.75 41.75,50.85 40.05,48.75" fill="#fff" stroke="#111" stroke-width="0.6"/>
<polygon points="45.4,42.9 47.1,45 45.4,47.1 43.7,45" fill="#fff" stroke="#111" stroke-width="0.6"/>
<polygon points="48.9,39.8 50.6,41.9 48.9,44 47.2,41.9" fill="#fff" stroke="#111" stroke-width="0.6"/>
<polygon points="52.6,37.5 54.3,39.6 52.6,41.7 50.9,39.6" fill="#fff" stroke="#111" stroke-width="0.6"/>
<polygon points="56.4,35.65 58.1,37.75 56.4,39.85 54.7,37.75" fill="#fff" stroke="#111" stroke-width="0.6"/>
<polygon points="60.1,34.4 61.8,36.5 60.1,38.6 58.4,36.5" fill="#fff" stroke="#111" stroke-width="0.6"/>
<polygon points="63.9,33.15 65.6,35.25 63.9,37.35 62.2,35.25" fill="#fff" stroke="#111" stroke-width="0.6"/>
<polygon points="67.6,32.3 69.3,34.4 67.6,36.5 65.9,34.4" fill="#fff" stroke="#111" stroke-width="0.6"/>
<polygon points="71.4,31.4 73.1,33.5 71.4,35.6 69.7,33.5" fill="#fff" stroke="#111" stroke-width="0.6"/>
<polygon points="75.1,30.65 76.8,32.75 75.1,34.85 73.4,32.75" fill="#fff" stroke="#111" stroke-width="0.6"/>
<polygon points="78.9,30 80.6,32.1 78.9,34.2 77.2,32.1" fill="#fff" stroke="#111" stroke-width="0.6"/>
<polygon points="82.6,29.4 84.3,31.5 82.6,33.6 80.9,31.5" fill="#fff" stroke="#111" stroke-width="0.6"/>
<polygon points="86.4,28.9 88.1,31 86.4,33.1 84.7,31" fill="#fff" stroke="#111" stroke-width="0.6"/>
<polygon points="89.9,28.5 91.6,30.6 89.9,32.7 88.2,30.6" fill="#fff" stroke="#111" stroke-width="0.6"/>
<circle cx="101.4" cy="13.5" r="1.4" fill="#000" stroke="#000" stroke-width="0.5"/>
<text x="111" y="15.3" font-size="5.15" text-anchor="start" fill="#000">Collagen/Pectin (2:1)</text>
<rect x="100.05" y="18.15" width="2.7" height="2.7" fill="#fff" stroke="#333" stroke-width="0.5"/>
<text x="111" y="21.3" font-size="5.15" text-anchor="start" fill="#000">Collagen/Pectin (1:1)</text>
<polygon points="100,26.83 102.8,26.83 101.4,24.31" fill="#000" stroke="#000" stroke-width="0.4"/>
<text x="111" y="27.5" font-size="5.15" text-anchor="start" fill="#000">Collagen only (5 mg.mL<tspan font-size="3.2" dy="-1.8">-1</tspan><tspan dy="1.8">)</tspan></text>
<polygon points="101.4,29.85 103.05,31.7 101.4,33.55 99.75,31.7" fill="#fff" stroke="#333" stroke-width="0.5"/>
<text x="111" y="33.5" font-size="5.15" text-anchor="start" fill="#000">Pectin only (5% w/v)</text>
</g>
<g id="plot-a-right">
<rect x="198.3" y="8.6" width="133.4" height="133.5" fill="none" stroke="#6e6e6e" stroke-width="0.62"/>
<text x="194" y="10.55" font-size="5.5" text-anchor="end" fill="#000">1e+5</text>
<text x="194" y="37.25" font-size="5.5" text-anchor="end" fill="#000">1e+4</text>
<text x="194" y="63.95" font-size="5.5" text-anchor="end" fill="#000">1e+3</text>
<text x="194" y="90.65" font-size="5.5" text-anchor="end" fill="#000">1e+2</text>
<text x="194" y="117.35" font-size="5.5" text-anchor="end" fill="#000">1e+1</text>
<text x="194" y="144.05" font-size="5.5" text-anchor="end" fill="#000">1e+0</text>
<path d="M198.3 8.6h2M198.3 35.3h2M198.3 62h2M198.3 88.7h2M198.3 115.4h2M198.3 142.1h2" stroke="#6e6e6e" stroke-width="0.5" fill="none"/>
<path d="M198.3 27.26h1M198.3 22.56h1M198.3 19.22h1M198.3 16.64h1M198.3 14.52h1M198.3 12.74h1M198.3 11.19h1M198.3 9.82h1M198.3 53.96h1M198.3 49.26h1M198.3 45.92h1M198.3 43.34h1M198.3 41.22h1M198.3 39.44h1M198.3 37.89h1M198.3 36.52h1M198.3 80.66h1M198.3 75.96h1M198.3 72.62h1M198.3 70.04h1M198.3 67.92h1M198.3 66.14h1M198.3 64.59h1M198.3 63.22h1M198.3 107.36h1M198.3 102.66h1M198.3 99.32h1M198.3 96.74h1M198.3 94.62h1M198.3 92.84h1M198.3 91.29h1M198.3 89.92h1M198.3 134.06h1M198.3 129.36h1M198.3 126.02h1M198.3 123.44h1M198.3 121.32h1M198.3 119.54h1M198.3 117.99h1M198.3 116.62h1" stroke="#6e6e6e" stroke-width="0.5" fill="none"/>
<text x="198.6" y="151.5" font-size="5.5" text-anchor="middle" fill="#000">0</text>
<text x="220.83" y="151.5" font-size="5.5" text-anchor="middle" fill="#000">50</text>
<text x="243.07" y="151.5" font-size="5.5" text-anchor="middle" fill="#000">100</text>
<text x="265.3" y="151.5" font-size="5.5" text-anchor="middle" fill="#000">150</text>
<text x="287.53" y="151.5" font-size="5.5" text-anchor="middle" fill="#000">200</text>
<text x="309.77" y="151.5" font-size="5.5" text-anchor="middle" fill="#000">250</text>
<text x="332" y="151.5" font-size="5.5" text-anchor="middle" fill="#000">300</text>
<path d="M198.3 142.1v-2M220.53 142.1v-2M242.77 142.1v-2M265 142.1v-2M287.23 142.1v-2M309.47 142.1v-2M331.7 142.1v-2" stroke="#6e6e6e" stroke-width="0.5" fill="none"/>
<path d="M198.3 142.1v-1M202.75 142.1v-1M207.19 142.1v-1M211.64 142.1v-1M216.09 142.1v-1M220.53 142.1v-1M224.98 142.1v-1M229.43 142.1v-1M233.87 142.1v-1M238.32 142.1v-1M242.77 142.1v-1M247.21 142.1v-1M251.66 142.1v-1M256.11 142.1v-1M260.55 142.1v-1M265 142.1v-1M269.45 142.1v-1M273.89 142.1v-1M278.34 142.1v-1M282.79 142.1v-1M287.23 142.1v-1M291.68 142.1v-1M296.13 142.1v-1M300.57 142.1v-1M305.02 142.1v-1M309.47 142.1v-1M313.91 142.1v-1M318.36 142.1v-1M322.81 142.1v-1M327.25 142.1v-1M331.7 142.1v-1" stroke="#6e6e6e" stroke-width="0.5" fill="none"/>
<text x="266" y="162.3" font-size="6.4" text-anchor="middle" fill="#000">Time, t, (s)</text>
<path d="M205.53 115V135.5M204.53 115h2M204.53 135.5h2" stroke="#333" stroke-width="0.5" fill="none"/>
<path d="M209.97 119.35V131.95M208.97 119.35h2M208.97 131.95h2" stroke="#333" stroke-width="0.5" fill="none"/>
<path d="M214.41 118.7V130.7M213.41 118.7h2M213.41 130.7h2" stroke="#333" stroke-width="0.5" fill="none"/>
<path d="M218.84 117.65V129.65M217.84 117.65h2M217.84 129.65h2" stroke="#333" stroke-width="0.5" fill="none"/>
<path d="M223.27 116.2V128M222.27 116.2h2M222.27 128h2" stroke="#333" stroke-width="0.5" fill="none"/>
<path d="M227.71 114.6V126.2M226.71 114.6h2M226.71 126.2h2" stroke="#333" stroke-width="0.5" fill="none"/>
<path d="M232.14 113.05V124.85M231.14 113.05h2M231.14 124.85h2" stroke="#333" stroke-width="0.5" fill="none"/>
<path d="M236.58 111.05V123.05M235.58 111.05h2M235.58 123.05h2" stroke="#333" stroke-width="0.5" fill="none"/>
<path d="M241.01 109.1V120.5M240.01 109.1h2M240.01 120.5h2" stroke="#333" stroke-width="0.5" fill="none"/>
<path d="M245.45 107.25V118.45M244.45 107.25h2M244.45 118.45h2" stroke="#333" stroke-width="0.5" fill="none"/>
<path d="M249.88 105.6V116.2M248.88 105.6h2M248.88 116.2h2" stroke="#333" stroke-width="0.5" fill="none"/>
<path d="M254.32 104.1V114.3M253.32 104.1h2M253.32 114.3h2" stroke="#333" stroke-width="0.5" fill="none"/>
<path d="M258.75 103.1V112.5M257.75 103.1h2M257.75 112.5h2" stroke="#333" stroke-width="0.5" fill="none"/>
<path d="M263.19 102.1V110.7M262.19 102.1h2M262.19 110.7h2" stroke="#333" stroke-width="0.5" fill="none"/>
<path d="M267.62 100.6V108.4M266.62 100.6h2M266.62 108.4h2" stroke="#333" stroke-width="0.5" fill="none"/>
<path d="M272.06 99.5V106.7M271.06 99.5h2M271.06 106.7h2" stroke="#333" stroke-width="0.5" fill="none"/>
<path d="M276.5 98.5V105.1M275.5 98.5h2M275.5 105.1h2" stroke="#333" stroke-width="0.5" fill="none"/>
<path d="M280.93 97.6V103.6M279.93 97.6h2M279.93 103.6h2" stroke="#333" stroke-width="0.5" fill="none"/>
<path d="M285.37 96.8V102.2M284.37 96.8h2M284.37 102.2h2" stroke="#333" stroke-width="0.5" fill="none"/>
<path d="M289.8 96V100.8M288.8 96h2M288.8 100.8h2" stroke="#333" stroke-width="0.5" fill="none"/>
<path d="M294.24 95.3V99.9M293.24 95.3h2M293.24 99.9h2" stroke="#333" stroke-width="0.5" fill="none"/>
<path d="M298.67 94.5V98.7M297.67 94.5h2M297.67 98.7h2" stroke="#333" stroke-width="0.5" fill="none"/>
<path d="M303.11 93.7V97.7M302.11 93.7h2M302.11 97.7h2" stroke="#333" stroke-width="0.5" fill="none"/>
<path d="M307.54 93.2V96.8M306.54 93.2h2M306.54 96.8h2" stroke="#333" stroke-width="0.5" fill="none"/>
<path d="M311.97 92.4V95.8M310.97 92.4h2M310.97 95.8h2" stroke="#333" stroke-width="0.5" fill="none"/>
<path d="M316.41 92.1V95.3M315.41 92.1h2M315.41 95.3h2" stroke="#333" stroke-width="0.5" fill="none"/>
<path d="M320.84 91.6V94.6M319.84 91.6h2M319.84 94.6h2" stroke="#333" stroke-width="0.5" fill="none"/>
<path d="M325.28 91.1V94.1M324.28 91.1h2M324.28 94.1h2" stroke="#333" stroke-width="0.5" fill="none"/>
<path d="M329.71 90.6V93.6M328.71 90.6h2M328.71 93.6h2" stroke="#333" stroke-width="0.5" fill="none"/>
<polygon points="203.94,122.8 207.13,122.8 205.53,119.92" fill="#000" stroke="#000" stroke-width="0.4"/>
<polygon points="208.37,125.05 211.57,125.05 209.97,122.17" fill="#000" stroke="#000" stroke-width="0.4"/>
<polygon points="212.81,124.4 216,124.4 214.41,121.52" fill="#000" stroke="#000" stroke-width="0.4"/>
<polygon points="217.24,123.55 220.44,123.55 218.84,120.67" fill="#000" stroke="#000" stroke-width="0.4"/>
<polygon points="221.67,121.9 224.87,121.9 223.27,119.02" fill="#000" stroke="#000" stroke-width="0.4"/>
<polygon points="226.11,120.3 229.31,120.3 227.71,117.42" fill="#000" stroke="#000" stroke-width="0.4"/>
<polygon points="230.54,118.55 233.74,118.55 232.14,115.67" fill="#000" stroke="#000" stroke-width="0.4"/>
<polygon points="234.98,116.55 238.18,116.55 236.58,113.67" fill="#000" stroke="#000" stroke-width="0.4"/>
<polygon points="239.41,114.4 242.61,114.4 241.01,111.52" fill="#000" stroke="#000" stroke-width="0.4"/>
<polygon points="243.85,112.55 247.05,112.55 245.45,109.67" fill="#000" stroke="#000" stroke-width="0.4"/>
<polygon points="248.28,110.7 251.48,110.7 249.88,107.82" fill="#000" stroke="#000" stroke-width="0.4"/>
<polygon points="252.72,108.8 255.92,108.8 254.32,105.92" fill="#000" stroke="#000" stroke-width="0.4"/>
<polygon points="257.15,107.6 260.36,107.6 258.75,104.72" fill="#000" stroke="#000" stroke-width="0.4"/>
<polygon points="261.59,106.4 264.79,106.4 263.19,103.52" fill="#000" stroke="#000" stroke-width="0.4"/>
<polygon points="266.02,104.7 269.23,104.7 267.62,101.82" fill="#000" stroke="#000" stroke-width="0.4"/>
<polygon points="270.46,103.4 273.66,103.4 272.06,100.52" fill="#000" stroke="#000" stroke-width="0.4"/>
<polygon points="274.89,102.2 278.1,102.2 276.5,99.32" fill="#000" stroke="#000" stroke-width="0.4"/>
<polygon points="279.33,101.1 282.53,101.1 280.93,98.22" fill="#000" stroke="#000" stroke-width="0.4"/>
<polygon points="283.76,100.1 286.97,100.1 285.37,97.22" fill="#000" stroke="#000" stroke-width="0.4"/>
<polygon points="288.2,99.1 291.4,99.1 289.8,96.22" fill="#000" stroke="#000" stroke-width="0.4"/>
<polygon points="292.63,98.4 295.84,98.4 294.24,95.52" fill="#000" stroke="#000" stroke-width="0.4"/>
<polygon points="297.07,97.4 300.27,97.4 298.67,94.52" fill="#000" stroke="#000" stroke-width="0.4"/>
<polygon points="301.5,96.6 304.71,96.6 303.11,93.72" fill="#000" stroke="#000" stroke-width="0.4"/>
<polygon points="305.94,95.9 309.14,95.9 307.54,93.02" fill="#000" stroke="#000" stroke-width="0.4"/>
<polygon points="310.37,95.1 313.57,95.1 311.97,92.22" fill="#000" stroke="#000" stroke-width="0.4"/>
<polygon points="314.81,94.6 318.01,94.6 316.41,91.72" fill="#000" stroke="#000" stroke-width="0.4"/>
<polygon points="319.24,94.1 322.44,94.1 320.84,91.22" fill="#000" stroke="#000" stroke-width="0.4"/>
<polygon points="323.68,93.6 326.88,93.6 325.28,90.72" fill="#000" stroke="#000" stroke-width="0.4"/>
<polygon points="328.11,93.1 331.31,93.1 329.71,90.22" fill="#000" stroke="#000" stroke-width="0.4"/>
<path d="M201.1 106V117M200.1 106h2M200.1 117h2" stroke="#333" stroke-width="0.5" fill="none"/>
<path d="M205.5 81.6V102.9M204.5 81.6h2M204.5 102.9h2" stroke="#333" stroke-width="0.5" fill="none"/>
<path d="M210.1 76V84M209.1 76h2M209.1 84h2" stroke="#333" stroke-width="0.5" fill="none"/>
<circle cx="201.1" cy="113.1" r="1.55" fill="#000" stroke="#000" stroke-width="0.5"/>
<rect x="199.75" y="108.4" width="2.7" height="2.7" fill="#fff" stroke="#111" stroke-width="0.65"/>
<rect x="204.19" y="87.04" width="2.7" height="2.7" fill="#fff" stroke="#111" stroke-width="0.65"/>
<rect x="208.62" y="72.82" width="2.7" height="2.7" fill="#fff" stroke="#111" stroke-width="0.65"/>
<rect x="213.06" y="68.57" width="2.7" height="2.7" fill="#fff" stroke="#111" stroke-width="0.65"/>
<rect x="217.49" y="66.18" width="2.7" height="2.7" fill="#fff" stroke="#111" stroke-width="0.65"/>
<rect x="221.92" y="64.89" width="2.7" height="2.7" fill="#fff" stroke="#111" stroke-width="0.65"/>
<rect x="226.36" y="63.63" width="2.7" height="2.7" fill="#fff" stroke="#111" stroke-width="0.65"/>
<rect x="230.79" y="63.02" width="2.7" height="2.7" fill="#fff" stroke="#111" stroke-width="0.65"/>
<rect x="235.23" y="62.13" width="2.7" height="2.7" fill="#fff" stroke="#111" stroke-width="0.65"/>
<rect x="239.66" y="61.75" width="2.7" height="2.7" fill="#fff" stroke="#111" stroke-width="0.65"/>
<rect x="244.1" y="61.4" width="2.7" height="2.7" fill="#fff" stroke="#111" stroke-width="0.65"/>
<rect x="248.53" y="60.9" width="2.7" height="2.7" fill="#fff" stroke="#111" stroke-width="0.65"/>
<rect x="252.97" y="60.56" width="2.7" height="2.7" fill="#fff" stroke="#111" stroke-width="0.65"/>
<rect x="257.4" y="60.19" width="2.7" height="2.7" fill="#fff" stroke="#111" stroke-width="0.65"/>
<rect x="261.84" y="59.82" width="2.7" height="2.7" fill="#fff" stroke="#111" stroke-width="0.65"/>
<rect x="266.27" y="59.45" width="2.7" height="2.7" fill="#fff" stroke="#111" stroke-width="0.65"/>
<rect x="270.71" y="59.13" width="2.7" height="2.7" fill="#fff" stroke="#111" stroke-width="0.65"/>
<rect x="275.14" y="58.86" width="2.7" height="2.7" fill="#fff" stroke="#111" stroke-width="0.65"/>
<rect x="279.58" y="58.59" width="2.7" height="2.7" fill="#fff" stroke="#111" stroke-width="0.65"/>
<rect x="284.01" y="58.33" width="2.7" height="2.7" fill="#fff" stroke="#111" stroke-width="0.65"/>
<rect x="288.45" y="58.06" width="2.7" height="2.7" fill="#fff" stroke="#111" stroke-width="0.65"/>
<rect x="292.88" y="57.83" width="2.7" height="2.7" fill="#fff" stroke="#111" stroke-width="0.65"/>
<rect x="297.32" y="57.61" width="2.7" height="2.7" fill="#fff" stroke="#111" stroke-width="0.65"/>
<rect x="301.75" y="57.38" width="2.7" height="2.7" fill="#fff" stroke="#111" stroke-width="0.65"/>
<rect x="306.19" y="57.11" width="2.7" height="2.7" fill="#fff" stroke="#111" stroke-width="0.65"/>
<rect x="310.62" y="56.78" width="2.7" height="2.7" fill="#fff" stroke="#111" stroke-width="0.65"/>
<rect x="315.06" y="56.45" width="2.7" height="2.7" fill="#fff" stroke="#111" stroke-width="0.65"/>
<rect x="319.49" y="56.13" width="2.7" height="2.7" fill="#fff" stroke="#111" stroke-width="0.65"/>
<rect x="323.93" y="55.8" width="2.7" height="2.7" fill="#fff" stroke="#111" stroke-width="0.65"/>
<rect x="328.36" y="55.47" width="2.7" height="2.7" fill="#fff" stroke="#111" stroke-width="0.65"/>
<circle cx="201.1" cy="104.5" r="1.55" fill="#000" stroke="#000" stroke-width="0.5"/>
<circle cx="205.53" cy="91.51" r="1.55" fill="#000" stroke="#000" stroke-width="0.5"/>
<circle cx="209.97" cy="80.72" r="1.55" fill="#000" stroke="#000" stroke-width="0.5"/>
<circle cx="214.41" cy="77.17" r="1.55" fill="#000" stroke="#000" stroke-width="0.5"/>
<circle cx="218.84" cy="75.28" r="1.55" fill="#000" stroke="#000" stroke-width="0.5"/>
<circle cx="223.27" cy="74.1" r="1.55" fill="#000" stroke="#000" stroke-width="0.5"/>
<circle cx="227.71" cy="73.38" r="1.55" fill="#000" stroke="#000" stroke-width="0.5"/>
<circle cx="232.14" cy="72.73" r="1.55" fill="#000" stroke="#000" stroke-width="0.5"/>
<circle cx="236.58" cy="72.25" r="1.55" fill="#000" stroke="#000" stroke-width="0.5"/>
<circle cx="241.01" cy="71.6" r="1.55" fill="#000" stroke="#000" stroke-width="0.5"/>
<circle cx="245.45" cy="71.01" r="1.55" fill="#000" stroke="#000" stroke-width="0.5"/>
<circle cx="249.88" cy="70.4" r="1.55" fill="#000" stroke="#000" stroke-width="0.5"/>
<circle cx="254.32" cy="70.02" r="1.55" fill="#000" stroke="#000" stroke-width="0.5"/>
<circle cx="258.75" cy="69.78" r="1.55" fill="#000" stroke="#000" stroke-width="0.5"/>
<circle cx="263.19" cy="69.55" r="1.55" fill="#000" stroke="#000" stroke-width="0.5"/>
<circle cx="267.62" cy="69.32" r="1.55" fill="#000" stroke="#000" stroke-width="0.5"/>
<circle cx="272.06" cy="69.09" r="1.55" fill="#000" stroke="#000" stroke-width="0.5"/>
<circle cx="276.5" cy="68.84" r="1.55" fill="#000" stroke="#000" stroke-width="0.5"/>
<circle cx="280.93" cy="68.6" r="1.55" fill="#000" stroke="#000" stroke-width="0.5"/>
<circle cx="285.37" cy="68.35" r="1.55" fill="#000" stroke="#000" stroke-width="0.5"/>
<circle cx="289.8" cy="68.11" r="1.55" fill="#000" stroke="#000" stroke-width="0.5"/>
<circle cx="294.24" cy="67.91" r="1.55" fill="#000" stroke="#000" stroke-width="0.5"/>
<circle cx="298.67" cy="67.71" r="1.55" fill="#000" stroke="#000" stroke-width="0.5"/>
<circle cx="303.11" cy="67.51" r="1.55" fill="#000" stroke="#000" stroke-width="0.5"/>
<circle cx="307.54" cy="67.31" r="1.55" fill="#000" stroke="#000" stroke-width="0.5"/>
<circle cx="311.97" cy="67.12" r="1.55" fill="#000" stroke="#000" stroke-width="0.5"/>
<circle cx="316.41" cy="66.94" r="1.55" fill="#000" stroke="#000" stroke-width="0.5"/>
<circle cx="320.84" cy="66.77" r="1.55" fill="#000" stroke="#000" stroke-width="0.5"/>
<circle cx="325.28" cy="66.59" r="1.55" fill="#000" stroke="#000" stroke-width="0.5"/>
<circle cx="329.71" cy="66.41" r="1.55" fill="#000" stroke="#000" stroke-width="0.5"/>
<path d="M203.25 59.45V75.45M202.15 59.45h2.2M202.15 75.45h2.2" stroke="#333" stroke-width="0.5" fill="none"/>
<path d="M212.11 54.4V66.9M211.01 54.4h2.2M211.01 66.9h2.2" stroke="#333" stroke-width="0.5" fill="none"/>
<path d="M220.97 51.5V61.9M219.87 51.5h2.2M219.87 61.9h2.2" stroke="#333" stroke-width="0.5" fill="none"/>
<path d="M229.83 49.4V58M228.73 49.4h2.2M228.73 58h2.2" stroke="#333" stroke-width="0.5" fill="none"/>
<path d="M238.69 47.5V55.2M237.59 47.5h2.2M237.59 55.2h2.2" stroke="#333" stroke-width="0.5" fill="none"/>
<path d="M247.55 46V53.1M246.45 46h2.2M246.45 53.1h2.2" stroke="#333" stroke-width="0.5" fill="none"/>
<path d="M256.41 45.1V51.9M255.31 45.1h2.2M255.31 51.9h2.2" stroke="#333" stroke-width="0.5" fill="none"/>
<path d="M265.27 44.4V50.8M264.17 44.4h2.2M264.17 50.8h2.2" stroke="#333" stroke-width="0.5" fill="none"/>
<path d="M274.13 43.4V49.6M273.03 43.4h2.2M273.03 49.6h2.2" stroke="#333" stroke-width="0.5" fill="none"/>
<path d="M282.99 42.7V48.9M281.89 42.7h2.2M281.89 48.9h2.2" stroke="#333" stroke-width="0.5" fill="none"/>
<path d="M291.85 42.2V48.2M290.75 42.2h2.2M290.75 48.2h2.2" stroke="#333" stroke-width="0.5" fill="none"/>
<path d="M300.71 41.7V47.7M299.61 41.7h2.2M299.61 47.7h2.2" stroke="#333" stroke-width="0.5" fill="none"/>
<path d="M309.57 40.9V46.9M308.47 40.9h2.2M308.47 46.9h2.2" stroke="#333" stroke-width="0.5" fill="none"/>
<path d="M318.43 40.2V46.2M317.33 40.2h2.2M317.33 46.2h2.2" stroke="#333" stroke-width="0.5" fill="none"/>
<path d="M327.29 39.4V45.4M326.19 39.4h2.2M326.19 45.4h2.2" stroke="#333" stroke-width="0.5" fill="none"/>
<polygon points="203.25,70.05 204.95,72.25 203.25,74.45 201.55,72.25" fill="#fff" stroke="#111" stroke-width="0.65"/>
<polygon points="212.11,58.4 213.81,60.6 212.11,62.8 210.41,60.6" fill="#fff" stroke="#111" stroke-width="0.65"/>
<polygon points="220.97,53.4 222.67,55.6 220.97,57.8 219.27,55.6" fill="#fff" stroke="#111" stroke-width="0.65"/>
<polygon points="229.83,50.3 231.53,52.5 229.83,54.7 228.13,52.5" fill="#fff" stroke="#111" stroke-width="0.65"/>
<polygon points="238.69,48.4 240.39,50.6 238.69,52.8 236.99,50.6" fill="#fff" stroke="#111" stroke-width="0.65"/>
<polygon points="247.55,46.8 249.25,49 247.55,51.2 245.85,49" fill="#fff" stroke="#111" stroke-width="0.65"/>
<polygon points="256.41,45.9 258.11,48.1 256.41,50.3 254.71,48.1" fill="#fff" stroke="#111" stroke-width="0.65"/>
<polygon points="265.27,45 266.97,47.2 265.27,49.4 263.57,47.2" fill="#fff" stroke="#111" stroke-width="0.65"/>
<polygon points="274.13,44 275.83,46.2 274.13,48.4 272.43,46.2" fill="#fff" stroke="#111" stroke-width="0.65"/>
<polygon points="282.99,43.3 284.69,45.5 282.99,47.7 281.29,45.5" fill="#fff" stroke="#111" stroke-width="0.65"/>
<polygon points="291.85,42.8 293.55,45 291.85,47.2 290.15,45" fill="#fff" stroke="#111" stroke-width="0.65"/>
<polygon points="300.71,42.3 302.41,44.5 300.71,46.7 299.01,44.5" fill="#fff" stroke="#111" stroke-width="0.65"/>
<polygon points="309.57,41.5 311.27,43.7 309.57,45.9 307.87,43.7" fill="#fff" stroke="#111" stroke-width="0.65"/>
<polygon points="318.43,40.8 320.13,43 318.43,45.2 316.73,43" fill="#fff" stroke="#111" stroke-width="0.65"/>
<polygon points="327.29,40 328.99,42.2 327.29,44.4 325.59,42.2" fill="#fff" stroke="#111" stroke-width="0.65"/>
<circle cx="263.5" cy="13.5" r="1.4" fill="#000" stroke="#000" stroke-width="0.5"/>
<text x="272.1" y="15.3" font-size="5.15" text-anchor="start" fill="#000">Collagen/Pectin (2:1)</text>
<rect x="262.15" y="18.15" width="2.7" height="2.7" fill="#fff" stroke="#333" stroke-width="0.5"/>
<text x="272.1" y="21.3" font-size="5.15" text-anchor="start" fill="#000">Collagen/Pectin (1:1)</text>
<polygon points="262.1,26.83 264.9,26.83 263.5,24.31" fill="#000" stroke="#000" stroke-width="0.4"/>
<text x="272.1" y="27.5" font-size="5.15" text-anchor="start" fill="#000">Collagen only (5 mg.mL<tspan font-size="3.2" dy="-1.8">-1</tspan><tspan dy="1.8">)</tspan></text>
<polygon points="263.5,29.85 265.15,31.7 263.5,33.55 261.85,31.7" fill="#fff" stroke="#333" stroke-width="0.5"/>
<text x="272.1" y="33.5" font-size="5.15" text-anchor="start" fill="#000">Pectin only (5% w/v)</text>
</g>
<g id="plot-b">
<rect x="382.8" y="9.4" width="132.4" height="132.7" fill="none" stroke="#6e6e6e" stroke-width="0.62"/>
<text x="378.5" y="11.35" font-size="5.5" text-anchor="end" fill="#000">1e+5</text>
<text x="378.5" y="37.89" font-size="5.5" text-anchor="end" fill="#000">1e+4</text>
<text x="378.5" y="64.43" font-size="5.5" text-anchor="end" fill="#000">1e+3</text>
<text x="378.5" y="90.97" font-size="5.5" text-anchor="end" fill="#000">1e+2</text>
<text x="378.5" y="117.51" font-size="5.5" text-anchor="end" fill="#000">1e+1</text>
<text x="378.5" y="144.05" font-size="5.5" text-anchor="end" fill="#000">1e+0</text>
<path d="M382.8 9.4h2M382.8 35.94h2M382.8 62.48h2M382.8 89.02h2M382.8 115.56h2M382.8 142.1h2" stroke="#6e6e6e" stroke-width="0.5" fill="none"/>
<path d="M382.8 27.95h1M382.8 23.28h1M382.8 19.96h1M382.8 17.39h1M382.8 15.29h1M382.8 13.51h1M382.8 11.97h1M382.8 10.61h1M382.8 54.49h1M382.8 49.82h1M382.8 46.5h1M382.8 43.93h1M382.8 41.83h1M382.8 40.05h1M382.8 38.51h1M382.8 37.15h1M382.8 81.03h1M382.8 76.36h1M382.8 73.04h1M382.8 70.47h1M382.8 68.37h1M382.8 66.59h1M382.8 65.05h1M382.8 63.69h1M382.8 107.57h1M382.8 102.9h1M382.8 99.58h1M382.8 97.01h1M382.8 94.91h1M382.8 93.13h1M382.8 91.59h1M382.8 90.23h1M382.8 134.11h1M382.8 129.44h1M382.8 126.12h1M382.8 123.55h1M382.8 121.45h1M382.8 119.67h1M382.8 118.13h1M382.8 116.77h1" stroke="#6e6e6e" stroke-width="0.5" fill="none"/>
<text x="383" y="151.4" font-size="5.5" text-anchor="middle" fill="#000">0.01</text>
<text x="425" y="151.4" font-size="5.5" text-anchor="middle" fill="#000">0.1</text>
<text x="467" y="151.4" font-size="5.5" text-anchor="middle" fill="#000">1</text>
<text x="509" y="151.4" font-size="5.5" text-anchor="middle" fill="#000">10</text>
<path d="M382.8 142.1v-2M424.8 142.1v-2M466.8 142.1v-2M508.8 142.1v-2" stroke="#6e6e6e" stroke-width="0.5" fill="none"/>
<path d="M395.44 142.1v-1M402.84 142.1v-1M408.09 142.1v-1M412.16 142.1v-1M415.48 142.1v-1M418.29 142.1v-1M420.73 142.1v-1M422.88 142.1v-1M437.44 142.1v-1M444.84 142.1v-1M450.09 142.1v-1M454.16 142.1v-1M457.48 142.1v-1M460.29 142.1v-1M462.73 142.1v-1M464.88 142.1v-1M479.44 142.1v-1M486.84 142.1v-1M492.09 142.1v-1M496.16 142.1v-1M499.48 142.1v-1M502.29 142.1v-1M504.73 142.1v-1M506.88 142.1v-1" stroke="#6e6e6e" stroke-width="0.5" fill="none"/>
<text x="449.3" y="162.6" font-size="6.4" text-anchor="middle" fill="#000">Frequency, ω, (Hz)</text>
<text transform="translate(360.6 77) rotate(-90)" font-size="6.38" text-anchor="middle" fill="#000">Storage/Loss moduli, G'/G", (Pa)</text>
<polygon points="391.3,30.7 393,32.5 391.3,34.3 389.6,32.5" fill="#000" stroke="#000" stroke-width="0.5"/>
<polygon points="399.7,29.1 401.4,30.9 399.7,32.7 398,30.9" fill="#000" stroke="#000" stroke-width="0.5"/>
<polygon points="408.1,28.2 409.8,30 408.1,31.8 406.4,30" fill="#000" stroke="#000" stroke-width="0.5"/>
<polygon points="416.5,27.6 418.2,29.4 416.5,31.2 414.8,29.4" fill="#000" stroke="#000" stroke-width="0.5"/>
<path d="M424.9 26.95V30.55M424.1 26.95h1.6M424.1 30.55h1.6" stroke="#000" stroke-width="0.5" fill="none"/>
<polygon points="424.9,26.95 426.6,28.75 424.9,30.55 423.2,28.75" fill="#000" stroke="#000" stroke-width="0.5"/>
<path d="M433.3 26.3V29.9M432.5 26.3h1.6M432.5 29.9h1.6" stroke="#000" stroke-width="0.5" fill="none"/>
<polygon points="433.3,26.3 435,28.1 433.3,29.9 431.6,28.1" fill="#000" stroke="#000" stroke-width="0.5"/>
<path d="M441.7 25.9V29.5M440.9 25.9h1.6M440.9 29.5h1.6" stroke="#000" stroke-width="0.5" fill="none"/>
<polygon points="441.7,25.9 443.4,27.7 441.7,29.5 440,27.7" fill="#000" stroke="#000" stroke-width="0.5"/>
<path d="M450.1 25.45V29.05M449.3 25.45h1.6M449.3 29.05h1.6" stroke="#000" stroke-width="0.5" fill="none"/>
<polygon points="450.1,25.45 451.8,27.25 450.1,29.05 448.4,27.25" fill="#000" stroke="#000" stroke-width="0.5"/>
<path d="M458.5 25.3V28.9M457.7 25.3h1.6M457.7 28.9h1.6" stroke="#000" stroke-width="0.5" fill="none"/>
<polygon points="458.5,25.3 460.2,27.1 458.5,28.9 456.8,27.1" fill="#000" stroke="#000" stroke-width="0.5"/>
<path d="M466.9 25.1V28.7M466.1 25.1h1.6M466.1 28.7h1.6" stroke="#000" stroke-width="0.5" fill="none"/>
<polygon points="466.9,25.1 468.6,26.9 466.9,28.7 465.2,26.9" fill="#000" stroke="#000" stroke-width="0.5"/>
<path d="M475.3 24.7V28.3M474.5 24.7h1.6M474.5 28.3h1.6" stroke="#000" stroke-width="0.5" fill="none"/>
<polygon points="475.3,24.7 477,26.5 475.3,28.3 473.6,26.5" fill="#000" stroke="#000" stroke-width="0.5"/>
<path d="M483.7 24.45V28.05M482.9 24.45h1.6M482.9 28.05h1.6" stroke="#000" stroke-width="0.5" fill="none"/>
<polygon points="483.7,24.45 485.4,26.25 483.7,28.05 482,26.25" fill="#000" stroke="#000" stroke-width="0.5"/>
<path d="M492.1 24.1V27.7M491.3 24.1h1.6M491.3 27.7h1.6" stroke="#000" stroke-width="0.5" fill="none"/>
<polygon points="492.1,24.1 493.8,25.9 492.1,27.7 490.4,25.9" fill="#000" stroke="#000" stroke-width="0.5"/>
<path d="M500.5 23.7V27.3M499.7 23.7h1.6M499.7 27.3h1.6" stroke="#000" stroke-width="0.5" fill="none"/>
<polygon points="500.5,23.7 502.2,25.5 500.5,27.3 498.8,25.5" fill="#000" stroke="#000" stroke-width="0.5"/>
<path d="M508.9 23.3V26.9M508.1 23.3h1.6M508.1 26.9h1.6" stroke="#000" stroke-width="0.5" fill="none"/>
<polygon points="508.9,23.3 510.6,25.1 508.9,26.9 507.2,25.1" fill="#000" stroke="#000" stroke-width="0.5"/>
<rect x="389.9" y="48.8" width="2.8" height="2.8" fill="#000" stroke="#000" stroke-width="0.5"/>
<rect x="398.3" y="48.8" width="2.8" height="2.8" fill="#000" stroke="#000" stroke-width="0.5"/>
<rect x="406.7" y="48.35" width="2.8" height="2.8" fill="#000" stroke="#000" stroke-width="0.5"/>
<rect x="415.1" y="47.8" width="2.8" height="2.8" fill="#000" stroke="#000" stroke-width="0.5"/>
<rect x="423.5" y="47.5" width="2.8" height="2.8" fill="#000" stroke="#000" stroke-width="0.5"/>
<rect x="431.9" y="47.2" width="2.8" height="2.8" fill="#000" stroke="#000" stroke-width="0.5"/>
<rect x="440.3" y="47.05" width="2.8" height="2.8" fill="#000" stroke="#000" stroke-width="0.5"/>
<rect x="448.7" y="46.7" width="2.8" height="2.8" fill="#000" stroke="#000" stroke-width="0.5"/>
<rect x="457.1" y="46.35" width="2.8" height="2.8" fill="#000" stroke="#000" stroke-width="0.5"/>
<rect x="465.5" y="46.1" width="2.8" height="2.8" fill="#000" stroke="#000" stroke-width="0.5"/>
<rect x="473.9" y="45.7" width="2.8" height="2.8" fill="#000" stroke="#000" stroke-width="0.5"/>
<rect x="482.3" y="45.5" width="2.8" height="2.8" fill="#000" stroke="#000" stroke-width="0.5"/>
<rect x="490.7" y="45.1" width="2.8" height="2.8" fill="#000" stroke="#000" stroke-width="0.5"/>
<rect x="499.1" y="44.6" width="2.8" height="2.8" fill="#000" stroke="#000" stroke-width="0.5"/>
<rect x="507.5" y="44.1" width="2.8" height="2.8" fill="#000" stroke="#000" stroke-width="0.5"/>
<path d="M391.3 51.4V55.4M390.5 51.4h1.6M390.5 55.4h1.6" stroke="#777" stroke-width="0.5" fill="none"/>
<polygon points="391.3,51.7 392.7,53.4 391.3,55.1 389.9,53.4" fill="#fff" stroke="#444" stroke-width="0.5"/>
<path d="M399.7 51V54M398.9 51h1.6M398.9 54h1.6" stroke="#777" stroke-width="0.5" fill="none"/>
<polygon points="399.7,50.8 401.1,52.5 399.7,54.2 398.3,52.5" fill="#fff" stroke="#444" stroke-width="0.5"/>
<path d="M408.1 50.75V57.75M407.3 50.75h1.6M407.3 57.75h1.6" stroke="#777" stroke-width="0.5" fill="none"/>
<polygon points="408.1,51.05 409.5,52.75 408.1,54.45 406.7,52.75" fill="#fff" stroke="#444" stroke-width="0.5"/>
<path d="M416.5 54.4V57.4M415.7 54.4h1.6M415.7 57.4h1.6" stroke="#777" stroke-width="0.5" fill="none"/>
<polygon points="416.5,54.2 417.9,55.9 416.5,57.6 415.1,55.9" fill="#fff" stroke="#444" stroke-width="0.5"/>
<path d="M424.9 50.75V57.25M424.1 50.75h1.6M424.1 57.25h1.6" stroke="#777" stroke-width="0.5" fill="none"/>
<polygon points="424.9,51.05 426.3,52.75 424.9,54.45 423.5,52.75" fill="#fff" stroke="#444" stroke-width="0.5"/>
<path d="M433.3 53.2V56.8M432.5 53.2h1.6M432.5 56.8h1.6" stroke="#777" stroke-width="0.5" fill="none"/>
<polygon points="433.3,53.3 434.7,55 433.3,56.7 431.9,55" fill="#fff" stroke="#444" stroke-width="0.5"/>
<path d="M441.7 53.7V57.3M440.9 53.7h1.6M440.9 57.3h1.6" stroke="#777" stroke-width="0.5" fill="none"/>
<polygon points="441.7,53.8 443.1,55.5 441.7,57.2 440.3,55.5" fill="#fff" stroke="#444" stroke-width="0.5"/>
<path d="M450.1 53.45V57.05M449.3 53.45h1.6M449.3 57.05h1.6" stroke="#777" stroke-width="0.5" fill="none"/>
<polygon points="450.1,53.55 451.5,55.25 450.1,56.95 448.7,55.25" fill="#fff" stroke="#444" stroke-width="0.5"/>
<path d="M458.5 53.2V56.8M457.7 53.2h1.6M457.7 56.8h1.6" stroke="#777" stroke-width="0.5" fill="none"/>
<polygon points="458.5,53.3 459.9,55 458.5,56.7 457.1,55" fill="#fff" stroke="#444" stroke-width="0.5"/>
<path d="M466.9 52.8V56.4M466.1 52.8h1.6M466.1 56.4h1.6" stroke="#777" stroke-width="0.5" fill="none"/>
<polygon points="466.9,52.9 468.3,54.6 466.9,56.3 465.5,54.6" fill="#fff" stroke="#444" stroke-width="0.5"/>
<path d="M475.3 52.45V56.05M474.5 52.45h1.6M474.5 56.05h1.6" stroke="#777" stroke-width="0.5" fill="none"/>
<polygon points="475.3,52.55 476.7,54.25 475.3,55.95 473.9,54.25" fill="#fff" stroke="#444" stroke-width="0.5"/>
<path d="M483.7 51.95V55.55M482.9 51.95h1.6M482.9 55.55h1.6" stroke="#777" stroke-width="0.5" fill="none"/>
<polygon points="483.7,52.05 485.1,53.75 483.7,55.45 482.3,53.75" fill="#fff" stroke="#444" stroke-width="0.5"/>
<path d="M492.1 51.6V55.2M491.3 51.6h1.6M491.3 55.2h1.6" stroke="#777" stroke-width="0.5" fill="none"/>
<polygon points="492.1,51.7 493.5,53.4 492.1,55.1 490.7,53.4" fill="#fff" stroke="#444" stroke-width="0.5"/>
<path d="M500.5 51.2V54.8M499.7 51.2h1.6M499.7 54.8h1.6" stroke="#777" stroke-width="0.5" fill="none"/>
<polygon points="500.5,51.3 501.9,53 500.5,54.7 499.1,53" fill="#fff" stroke="#444" stroke-width="0.5"/>
<path d="M508.9 50.8V54.4M508.1 50.8h1.6M508.1 54.4h1.6" stroke="#777" stroke-width="0.5" fill="none"/>
<polygon points="508.9,50.9 510.3,52.6 508.9,54.3 507.5,52.6" fill="#fff" stroke="#444" stroke-width="0.5"/>
<rect x="390" y="57.7" width="2.6" height="2.6" fill="#fff" stroke="#444" stroke-width="0.5"/>
<circle cx="391.3" cy="60.9" r="1.55" fill="#000" stroke="#000" stroke-width="0.5"/>
<circle cx="399.7" cy="61.5" r="1.55" fill="#000" stroke="#000" stroke-width="0.5"/>
<circle cx="408.1" cy="61.5" r="1.55" fill="#000" stroke="#000" stroke-width="0.5"/>
<circle cx="416.5" cy="60.25" r="1.55" fill="#000" stroke="#000" stroke-width="0.5"/>
<circle cx="424.9" cy="60" r="1.55" fill="#000" stroke="#000" stroke-width="0.5"/>
<circle cx="433.3" cy="60" r="1.55" fill="#000" stroke="#000" stroke-width="0.5"/>
<circle cx="441.7" cy="59.4" r="1.55" fill="#000" stroke="#000" stroke-width="0.5"/>
<circle cx="450.1" cy="59" r="1.55" fill="#000" stroke="#000" stroke-width="0.5"/>
<circle cx="458.5" cy="58.75" r="1.55" fill="#000" stroke="#000" stroke-width="0.5"/>
<circle cx="466.9" cy="58.4" r="1.55" fill="#000" stroke="#000" stroke-width="0.5"/>
<circle cx="475.3" cy="58" r="1.55" fill="#000" stroke="#000" stroke-width="0.5"/>
<circle cx="483.7" cy="57.75" r="1.55" fill="#000" stroke="#000" stroke-width="0.5"/>
<circle cx="492.1" cy="57.4" r="1.55" fill="#000" stroke="#000" stroke-width="0.5"/>
<circle cx="500.5" cy="57.1" r="1.55" fill="#000" stroke="#000" stroke-width="0.5"/>
<circle cx="508.9" cy="56.8" r="1.55" fill="#000" stroke="#000" stroke-width="0.5"/>
<rect x="406.8" y="71.45" width="2.6" height="2.6" fill="#fff" stroke="#777" stroke-width="0.5"/>
<rect x="415.2" y="73.4" width="2.6" height="2.6" fill="#fff" stroke="#777" stroke-width="0.5"/>
<rect x="423.6" y="73.65" width="2.6" height="2.6" fill="#fff" stroke="#777" stroke-width="0.5"/>
<rect x="432" y="74.25" width="2.6" height="2.6" fill="#fff" stroke="#777" stroke-width="0.5"/>
<rect x="440.4" y="74" width="2.6" height="2.6" fill="#fff" stroke="#777" stroke-width="0.5"/>
<rect x="448.8" y="73.8" width="2.6" height="2.6" fill="#fff" stroke="#777" stroke-width="0.5"/>
<rect x="457.2" y="73.7" width="2.6" height="2.6" fill="#fff" stroke="#777" stroke-width="0.5"/>
<rect x="465.6" y="73.55" width="2.6" height="2.6" fill="#fff" stroke="#777" stroke-width="0.5"/>
<rect x="474" y="73.4" width="2.6" height="2.6" fill="#fff" stroke="#777" stroke-width="0.5"/>
<rect x="482.4" y="73" width="2.6" height="2.6" fill="#fff" stroke="#777" stroke-width="0.5"/>
<rect x="490.8" y="72.45" width="2.6" height="2.6" fill="#fff" stroke="#777" stroke-width="0.5"/>
<rect x="499.2" y="71.7" width="2.6" height="2.6" fill="#fff" stroke="#777" stroke-width="0.5"/>
<rect x="507.6" y="71" width="2.6" height="2.6" fill="#fff" stroke="#777" stroke-width="0.5"/>
<path d="M399.7 63V72.75M398.9 63h1.6M398.9 72.75h1.6" stroke="#777" stroke-width="0.5" fill="none"/>
<circle cx="391.3" cy="73.1" r="1.35" fill="#fff" stroke="#777" stroke-width="0.5"/>
<circle cx="399.7" cy="79.9" r="1.35" fill="#fff" stroke="#777" stroke-width="0.5"/>
<circle cx="408.1" cy="80.3" r="1.35" fill="#fff" stroke="#777" stroke-width="0.5"/>
<circle cx="416.5" cy="85.6" r="1.35" fill="#fff" stroke="#777" stroke-width="0.5"/>
<circle cx="424.9" cy="86" r="1.35" fill="#fff" stroke="#777" stroke-width="0.5"/>
<circle cx="433.3" cy="86.25" r="1.35" fill="#fff" stroke="#777" stroke-width="0.5"/>
<circle cx="441.7" cy="86" r="1.35" fill="#fff" stroke="#777" stroke-width="0.5"/>
<circle cx="450.1" cy="86" r="1.35" fill="#fff" stroke="#777" stroke-width="0.5"/>
<circle cx="458.5" cy="86" r="1.35" fill="#fff" stroke="#777" stroke-width="0.5"/>
<circle cx="466.9" cy="85.75" r="1.35" fill="#fff" stroke="#777" stroke-width="0.5"/>
<circle cx="475.3" cy="85.5" r="1.35" fill="#fff" stroke="#777" stroke-width="0.5"/>
<circle cx="483.7" cy="85" r="1.35" fill="#fff" stroke="#777" stroke-width="0.5"/>
<circle cx="492.1" cy="84" r="1.35" fill="#fff" stroke="#777" stroke-width="0.5"/>
<circle cx="500.5" cy="83.1" r="1.35" fill="#fff" stroke="#777" stroke-width="0.5"/>
<circle cx="508.9" cy="82.3" r="1.35" fill="#fff" stroke="#777" stroke-width="0.5"/>
<circle cx="399.7" cy="67.5" r="1.35" fill="#fff" stroke="#555" stroke-width="0.5"/>
<circle cx="408.1" cy="72.9" r="1.2" fill="#fff" stroke="#777" stroke-width="0.5"/>
<path d="M391.3 108.05V112.55M390.1 108.05h2.4M390.1 112.55h2.4" stroke="#222" stroke-width="0.5" fill="none"/>
<polygon points="389.8,111.47 392.8,111.47 391.3,108.77" fill="#000" stroke="#000" stroke-width="0.4"/>
<path d="M399.7 107.55V112.05M398.5 107.55h2.4M398.5 112.05h2.4" stroke="#222" stroke-width="0.5" fill="none"/>
<polygon points="398.2,110.97 401.2,110.97 399.7,108.27" fill="#000" stroke="#000" stroke-width="0.4"/>
<path d="M408.1 106.9V111.4M406.9 106.9h2.4M406.9 111.4h2.4" stroke="#222" stroke-width="0.5" fill="none"/>
<polygon points="406.6,110.31 409.6,110.31 408.1,107.61" fill="#000" stroke="#000" stroke-width="0.4"/>
<path d="M416.5 106.55V111.05M415.3 106.55h2.4M415.3 111.05h2.4" stroke="#222" stroke-width="0.5" fill="none"/>
<polygon points="415,109.97 418,109.97 416.5,107.27" fill="#000" stroke="#000" stroke-width="0.4"/>
<path d="M424.9 106.2V110.7M423.7 106.2h2.4M423.7 110.7h2.4" stroke="#222" stroke-width="0.5" fill="none"/>
<polygon points="423.4,109.62 426.4,109.62 424.9,106.92" fill="#000" stroke="#000" stroke-width="0.4"/>
<path d="M433.3 105.55V110.05M432.1 105.55h2.4M432.1 110.05h2.4" stroke="#222" stroke-width="0.5" fill="none"/>
<polygon points="431.8,108.97 434.8,108.97 433.3,106.27" fill="#000" stroke="#000" stroke-width="0.4"/>
<path d="M441.7 105V109.5M440.5 105h2.4M440.5 109.5h2.4" stroke="#222" stroke-width="0.5" fill="none"/>
<polygon points="440.2,108.42 443.2,108.42 441.7,105.72" fill="#000" stroke="#000" stroke-width="0.4"/>
<path d="M450.1 104.55V109.05M448.9 104.55h2.4M448.9 109.05h2.4" stroke="#222" stroke-width="0.5" fill="none"/>
<polygon points="448.6,107.97 451.6,107.97 450.1,105.27" fill="#000" stroke="#000" stroke-width="0.4"/>
<path d="M458.5 104.1V108.6M457.3 104.1h2.4M457.3 108.6h2.4" stroke="#222" stroke-width="0.5" fill="none"/>
<polygon points="457,107.52 460,107.52 458.5,104.81" fill="#000" stroke="#000" stroke-width="0.4"/>
<path d="M466.9 103.5V108M465.7 103.5h2.4M465.7 108h2.4" stroke="#222" stroke-width="0.5" fill="none"/>
<polygon points="465.4,106.92 468.4,106.92 466.9,104.22" fill="#000" stroke="#000" stroke-width="0.4"/>
<path d="M475.3 102.75V107.25M474.1 102.75h2.4M474.1 107.25h2.4" stroke="#222" stroke-width="0.5" fill="none"/>
<polygon points="473.8,106.17 476.8,106.17 475.3,103.47" fill="#000" stroke="#000" stroke-width="0.4"/>
<path d="M483.7 102V106.5M482.5 102h2.4M482.5 106.5h2.4" stroke="#222" stroke-width="0.5" fill="none"/>
<polygon points="482.2,105.42 485.2,105.42 483.7,102.72" fill="#000" stroke="#000" stroke-width="0.4"/>
<path d="M492.1 101.1V105.6M490.9 101.1h2.4M490.9 105.6h2.4" stroke="#222" stroke-width="0.5" fill="none"/>
<polygon points="490.6,104.52 493.6,104.52 492.1,101.81" fill="#000" stroke="#000" stroke-width="0.4"/>
<path d="M500.5 100.05V104.55M499.3 100.05h2.4M499.3 104.55h2.4" stroke="#222" stroke-width="0.5" fill="none"/>
<polygon points="499,103.47 502,103.47 500.5,100.77" fill="#000" stroke="#000" stroke-width="0.4"/>
<path d="M508.9 99V103.5M507.7 99h2.4M507.7 103.5h2.4" stroke="#222" stroke-width="0.5" fill="none"/>
<polygon points="507.4,102.42 510.4,102.42 508.9,99.72" fill="#000" stroke="#000" stroke-width="0.4"/>
<path d="M391.3 124.2V128.8M390.1 124.2h2.4M390.1 128.8h2.4" stroke="#777" stroke-width="0.5" fill="none"/>
<polygon points="391.3,125.05 392.65,126.5 391.3,127.95 389.95,126.5" fill="#fff" stroke="#666" stroke-width="0.55"/>
<path d="M399.7 124.2V128.8M398.5 124.2h2.4M398.5 128.8h2.4" stroke="#777" stroke-width="0.5" fill="none"/>
<polygon points="399.7,125.05 401.05,126.5 399.7,127.95 398.35,126.5" fill="#fff" stroke="#666" stroke-width="0.55"/>
<path d="M408.1 124.2V128.8M406.9 124.2h2.4M406.9 128.8h2.4" stroke="#777" stroke-width="0.5" fill="none"/>
<polygon points="408.1,125.05 409.45,126.5 408.1,127.95 406.75,126.5" fill="#fff" stroke="#666" stroke-width="0.55"/>
<path d="M416.5 123.95V128.55M415.3 123.95h2.4M415.3 128.55h2.4" stroke="#777" stroke-width="0.5" fill="none"/>
<polygon points="416.5,124.8 417.85,126.25 416.5,127.7 415.15,126.25" fill="#fff" stroke="#666" stroke-width="0.55"/>
<path d="M424.9 123.7V128.3M423.7 123.7h2.4M423.7 128.3h2.4" stroke="#777" stroke-width="0.5" fill="none"/>
<polygon points="424.9,124.55 426.25,126 424.9,127.45 423.55,126" fill="#fff" stroke="#666" stroke-width="0.55"/>
<path d="M433.3 123.3V127.9M432.1 123.3h2.4M432.1 127.9h2.4" stroke="#777" stroke-width="0.5" fill="none"/>
<polygon points="433.3,124.15 434.65,125.6 433.3,127.05 431.95,125.6" fill="#fff" stroke="#666" stroke-width="0.55"/>
<path d="M441.7 123.2V127.8M440.5 123.2h2.4M440.5 127.8h2.4" stroke="#777" stroke-width="0.5" fill="none"/>
<polygon points="441.7,124.05 443.05,125.5 441.7,126.95 440.35,125.5" fill="#fff" stroke="#666" stroke-width="0.55"/>
<path d="M450.1 122.9V127.5M448.9 122.9h2.4M448.9 127.5h2.4" stroke="#777" stroke-width="0.5" fill="none"/>
<polygon points="450.1,123.75 451.45,125.2 450.1,126.65 448.75,125.2" fill="#fff" stroke="#666" stroke-width="0.55"/>
<path d="M458.5 122.45V127.05M457.3 122.45h2.4M457.3 127.05h2.4" stroke="#777" stroke-width="0.5" fill="none"/>
<polygon points="458.5,123.3 459.85,124.75 458.5,126.2 457.15,124.75" fill="#fff" stroke="#666" stroke-width="0.55"/>
<path d="M466.9 121.7V126.3M465.7 121.7h2.4M465.7 126.3h2.4" stroke="#777" stroke-width="0.5" fill="none"/>
<polygon points="466.9,122.55 468.25,124 466.9,125.45 465.55,124" fill="#fff" stroke="#666" stroke-width="0.55"/>
<path d="M475.3 121.25V125.85M474.1 121.25h2.4M474.1 125.85h2.4" stroke="#777" stroke-width="0.5" fill="none"/>
<polygon points="475.3,122.1 476.65,123.55 475.3,125 473.95,123.55" fill="#fff" stroke="#666" stroke-width="0.55"/>
<path d="M483.7 120.65V125.25M482.5 120.65h2.4M482.5 125.25h2.4" stroke="#777" stroke-width="0.5" fill="none"/>
<polygon points="483.7,121.5 485.05,122.95 483.7,124.4 482.35,122.95" fill="#fff" stroke="#666" stroke-width="0.55"/>
<path d="M492.1 120.2V124.8M490.9 120.2h2.4M490.9 124.8h2.4" stroke="#777" stroke-width="0.5" fill="none"/>
<polygon points="492.1,121.05 493.45,122.5 492.1,123.95 490.75,122.5" fill="#fff" stroke="#666" stroke-width="0.55"/>
<path d="M500.5 119V123.6M499.3 119h2.4M499.3 123.6h2.4" stroke="#777" stroke-width="0.5" fill="none"/>
<polygon points="500.5,119.85 501.85,121.3 500.5,122.75 499.15,121.3" fill="#fff" stroke="#666" stroke-width="0.55"/>
<path d="M508.9 116.85V123.65M507.7 116.85h2.4M507.7 123.65h2.4" stroke="#777" stroke-width="0.5" fill="none"/>
<polygon points="508.9,118.8 510.25,120.25 508.9,121.7 507.55,120.25" fill="#fff" stroke="#666" stroke-width="0.55"/>
</g>
<g id="plot-c">
<rect x="38.6" y="174.9" width="132.6" height="131" fill="none" stroke="#6e6e6e" stroke-width="0.62"/>
<text x="34.2" y="176.85" font-size="5.5" text-anchor="end" fill="#000">10</text>
<text x="34.2" y="242.35" font-size="5.5" text-anchor="end" fill="#000">1</text>
<text x="34.2" y="307.85" font-size="5.5" text-anchor="end" fill="#000">0.1</text>
<path d="M38.6 174.9h2M38.6 240.4h2M38.6 305.9h2" stroke="#6e6e6e" stroke-width="0.5" fill="none"/>
<path d="M38.6 220.68h1M38.6 209.15h1M38.6 200.97h1M38.6 194.62h1M38.6 189.43h1M38.6 185.05h1M38.6 181.25h1M38.6 177.9h1M38.6 286.18h1M38.6 274.65h1M38.6 266.47h1M38.6 260.12h1M38.6 254.93h1M38.6 250.55h1M38.6 246.75h1M38.6 243.4h1" stroke="#6e6e6e" stroke-width="0.5" fill="none"/>
<text x="38.2" y="315.2" font-size="5.5" text-anchor="middle" fill="#000">0.01</text>
<text x="64.7" y="315.2" font-size="5.5" text-anchor="middle" fill="#000">0.1</text>
<text x="91.2" y="315.2" font-size="5.5" text-anchor="middle" fill="#000">1</text>
<text x="117.7" y="315.2" font-size="5.5" text-anchor="middle" fill="#000">10</text>
<text x="144.2" y="315.2" font-size="5.5" text-anchor="middle" fill="#000">100</text>
<text x="170.7" y="315.2" font-size="5.5" text-anchor="middle" fill="#000">1000</text>
<path d="M38.6 305.9v-2M65.1 305.9v-2M91.6 305.9v-2M118.1 305.9v-2M144.6 305.9v-2M171.1 305.9v-2" stroke="#6e6e6e" stroke-width="0.5" fill="none"/>
<path d="M46.58 305.9v-1M51.24 305.9v-1M54.55 305.9v-1M57.12 305.9v-1M59.22 305.9v-1M61 305.9v-1M62.53 305.9v-1M63.89 305.9v-1M73.08 305.9v-1M77.74 305.9v-1M81.05 305.9v-1M83.62 305.9v-1M85.72 305.9v-1M87.5 305.9v-1M89.03 305.9v-1M90.39 305.9v-1M99.58 305.9v-1M104.24 305.9v-1M107.55 305.9v-1M110.12 305.9v-1M112.22 305.9v-1M114 305.9v-1M115.53 305.9v-1M116.89 305.9v-1M126.08 305.9v-1M130.74 305.9v-1M134.05 305.9v-1M136.62 305.9v-1M138.72 305.9v-1M140.5 305.9v-1M142.03 305.9v-1M143.39 305.9v-1M152.58 305.9v-1M157.24 305.9v-1M160.55 305.9v-1M163.12 305.9v-1M165.22 305.9v-1M167 305.9v-1M168.53 305.9v-1M169.89 305.9v-1" stroke="#6e6e6e" stroke-width="0.5" fill="none"/>
<text x="105" y="326.3" font-size="6.4" text-anchor="middle" fill="#000">Shear strain, γ, (%)</text>
<text transform="translate(12.3 240.5) rotate(-90)" font-size="6.42" text-anchor="middle" fill="#000">Normalised storage modulus,</text>
<text transform="translate(19.2 239.5) rotate(-90)" font-size="6.42" text-anchor="middle" fill="#000">G'/G'<tspan font-size="3.4" dy="1.4">ver</tspan><tspan dy="-1.4">, (a.u)</tspan></text>
<path d="M38.6 240.4H171.2" stroke="#333" stroke-width="0.55" stroke-dasharray="2.2 1.2" fill="none"/>
<rect x="42.55" y="239.3" width="2.4" height="2.4" fill="#fff" stroke="#444" stroke-width="0.5"/>
<circle cx="43.75" cy="240.4" r="1.35" fill="#fff" stroke="#222" stroke-width="0.65"/>
<path d="M42.65 240.4h2.2" stroke="#555" stroke-width="0.4"/>
<rect x="47.87" y="239.3" width="2.4" height="2.4" fill="#fff" stroke="#444" stroke-width="0.5"/>
<circle cx="49.07" cy="240.4" r="1.35" fill="#fff" stroke="#222" stroke-width="0.65"/>
<path d="M47.97 240.4h2.2" stroke="#555" stroke-width="0.4"/>
<rect x="53.19" y="239.3" width="2.4" height="2.4" fill="#fff" stroke="#444" stroke-width="0.5"/>
<circle cx="54.39" cy="240.4" r="1.35" fill="#fff" stroke="#222" stroke-width="0.65"/>
<path d="M53.29 240.4h2.2" stroke="#555" stroke-width="0.4"/>
<rect x="58.51" y="239.3" width="2.4" height="2.4" fill="#fff" stroke="#444" stroke-width="0.5"/>
<circle cx="59.71" cy="240.4" r="1.35" fill="#fff" stroke="#222" stroke-width="0.65"/>
<path d="M58.61 240.4h2.2" stroke="#555" stroke-width="0.4"/>
<circle cx="65.03" cy="241.3" r="1.35" fill="#000" stroke="#000" stroke-width="0.5"/>
<rect x="63.83" y="239.3" width="2.4" height="2.4" fill="#fff" stroke="#444" stroke-width="0.5"/>
<circle cx="65.03" cy="240.4" r="1.35" fill="#fff" stroke="#222" stroke-width="0.65"/>
<path d="M63.93 240.4h2.2" stroke="#555" stroke-width="0.4"/>
<circle cx="70.35" cy="241.4" r="1.35" fill="#000" stroke="#000" stroke-width="0.5"/>
<rect x="69.15" y="239.4" width="2.4" height="2.4" fill="#fff" stroke="#444" stroke-width="0.5"/>
<circle cx="70.35" cy="240.5" r="1.35" fill="#fff" stroke="#222" stroke-width="0.65"/>
<path d="M69.25 240.5h2.2" stroke="#555" stroke-width="0.4"/>
<circle cx="75.67" cy="241.5" r="1.35" fill="#000" stroke="#000" stroke-width="0.5"/>
<rect x="74.47" y="239.5" width="2.4" height="2.4" fill="#fff" stroke="#444" stroke-width="0.5"/>
<circle cx="75.67" cy="240.6" r="1.35" fill="#fff" stroke="#222" stroke-width="0.65"/>
<path d="M74.57 240.6h2.2" stroke="#555" stroke-width="0.4"/>
<circle cx="80.99" cy="241.6" r="1.35" fill="#000" stroke="#000" stroke-width="0.5"/>
<rect x="79.79" y="239.6" width="2.4" height="2.4" fill="#fff" stroke="#444" stroke-width="0.5"/>
<circle cx="80.99" cy="240.7" r="1.35" fill="#fff" stroke="#222" stroke-width="0.65"/>
<path d="M79.89 240.7h2.2" stroke="#555" stroke-width="0.4"/>
<circle cx="86.31" cy="241.8" r="1.35" fill="#000" stroke="#000" stroke-width="0.5"/>
<rect x="85.11" y="239.8" width="2.4" height="2.4" fill="#fff" stroke="#444" stroke-width="0.5"/>
<circle cx="86.31" cy="240.9" r="1.35" fill="#fff" stroke="#222" stroke-width="0.65"/>
<path d="M85.21 240.9h2.2" stroke="#555" stroke-width="0.4"/>
<circle cx="91.63" cy="242" r="1.35" fill="#000" stroke="#000" stroke-width="0.5"/>
<rect x="90.43" y="240" width="2.4" height="2.4" fill="#fff" stroke="#444" stroke-width="0.5"/>
<circle cx="91.63" cy="241.1" r="1.35" fill="#fff" stroke="#222" stroke-width="0.65"/>
<path d="M90.53 241.1h2.2" stroke="#555" stroke-width="0.4"/>
<circle cx="96.95" cy="242.2" r="1.35" fill="#000" stroke="#000" stroke-width="0.5"/>
<rect x="95.75" y="240.2" width="2.4" height="2.4" fill="#fff" stroke="#444" stroke-width="0.5"/>
<circle cx="96.95" cy="241.3" r="1.35" fill="#fff" stroke="#222" stroke-width="0.65"/>
<path d="M95.85 241.3h2.2" stroke="#555" stroke-width="0.4"/>
<circle cx="102.27" cy="240.6" r="1.4" fill="#000" stroke="#000" stroke-width="0.5"/>
<rect x="100.92" y="240.65" width="2.7" height="2.7" fill="#fff" stroke="#222" stroke-width="0.7"/>
<circle cx="107.59" cy="241.1" r="1.4" fill="#000" stroke="#000" stroke-width="0.5"/>
<rect x="106.24" y="241.15" width="2.7" height="2.7" fill="#fff" stroke="#222" stroke-width="0.7"/>
<circle cx="112.91" cy="241.7" r="1.4" fill="#000" stroke="#000" stroke-width="0.5"/>
<rect x="111.56" y="241.75" width="2.7" height="2.7" fill="#fff" stroke="#222" stroke-width="0.7"/>
<circle cx="118.23" cy="244" r="1.3" fill="#000" stroke="#000" stroke-width="0.5"/>
<rect x="116.83" y="243.7" width="2.8" height="2.8" fill="#fff" stroke="#222" stroke-width="0.7"/>
<circle cx="123.55" cy="247.4" r="1.6" fill="#000" stroke="#000" stroke-width="0.5"/>
<circle cx="128.87" cy="248.6" r="1.6" fill="#000" stroke="#000" stroke-width="0.5"/>
<circle cx="134.19" cy="254" r="1.6" fill="#000" stroke="#000" stroke-width="0.5"/>
<polygon points="121.8,246.82 125.3,246.82 123.55,243.67" fill="#000" stroke="#000" stroke-width="0.4"/>
<polygon points="127.12,245.82 130.62,245.82 128.87,242.67" fill="#000" stroke="#000" stroke-width="0.4"/>
<polygon points="132.44,243.42 135.94,243.42 134.19,240.27" fill="#000" stroke="#000" stroke-width="0.4"/>
<polygon points="137.76,242.42 141.26,242.42 139.51,239.27" fill="#000" stroke="#000" stroke-width="0.4"/>
<polygon points="143.08,251.62 146.58,251.62 144.83,248.47" fill="#000" stroke="#000" stroke-width="0.4"/>
<polygon points="148.4,282.92 151.9,282.92 150.15,279.77" fill="#000" stroke="#000" stroke-width="0.4"/>
<rect x="122.15" y="247.8" width="2.8" height="2.8" fill="#fff" stroke="#222" stroke-width="0.65"/>
<circle cx="128.87" cy="254.9" r="1.45" fill="#fff" stroke="#333" stroke-width="0.7"/>
<circle cx="128.87" cy="256.6" r="1.45" fill="#fff" stroke="#333" stroke-width="0.7"/>
<circle cx="134.19" cy="267.6" r="1.45" fill="#fff" stroke="#333" stroke-width="0.7"/>
<circle cx="134.19" cy="270.2" r="1.45" fill="#fff" stroke="#333" stroke-width="0.7"/>
<circle cx="101.6" cy="179.7" r="1.4" fill="#000" stroke="#000" stroke-width="0.5"/>
<text x="111.2" y="181.5" font-size="5.15" text-anchor="start" fill="#000">Collagen/Pectin (2:1)</text>
<rect x="100.25" y="184.05" width="2.7" height="2.7" fill="#fff" stroke="#333" stroke-width="0.5"/>
<text x="111.2" y="187.2" font-size="5.15" text-anchor="start" fill="#000">Collagen/Pectin (1:1)</text>
<polygon points="100.2,192.63 103,192.63 101.6,190.11" fill="#000" stroke="#000" stroke-width="0.4"/>
<text x="111.2" y="193.3" font-size="5.15" text-anchor="start" fill="#000">Collagen only (5 mg.mL<tspan font-size="3.2" dy="-1.8">-1</tspan><tspan dy="1.8">)</tspan></text>
<circle cx="101.6" cy="197.7" r="1.35" fill="#fff" stroke="#444" stroke-width="0.5"/>
<text x="111.2" y="199.5" font-size="5.15" text-anchor="start" fill="#000">Pectin only (3% w/v)</text>
</g>
<text x="0.9" y="10.4" font-size="12" text-anchor="start" fill="#111" stroke="#111" stroke-width="0.2">(a)</text>
<text x="346.5" y="10.4" font-size="12" text-anchor="start" fill="#111" stroke="#111" stroke-width="0.2">(b)</text>
<text x="2.6" y="178" font-size="11.6" text-anchor="start" fill="#1a1a1a" font-weight="bold">(c)</text>
</g>
<g id="photo-d1">
<rect x="188.3" y="171.2" width="141.6" height="138.8" fill="#020202"/>
<polygon points="204,256 204,232 205,225 207,218 211,211 218,206.5 238,202.4 258,201 278,200.4 304,202 310,205 312,210 313,230 315,256 315,262 314,270 310,276 304,279 288,280 248,280.6 228,281 214,280 207,276 204,270" fill="url(#pinkg)" filter="url(#soft)"/>
<g mask="url(#frontm)"><polygon points="204,256 204,232 205,225 207,218 211,211 218,206.5 238,202.4 258,201 278,200.4 304,202 310,205 312,210 313,230 315,256 315,262 314,270 310,276 304,279 288,280 248,280.6 228,281 214,280 207,276 204,270" fill="url(#pinkh)" filter="url(#soft)"/></g>
<polygon points="204,256 204,232 205,225 207,218 211,211 218,206.5 238,202.4 258,201 278,200.4 304,202 310,205 312,210 313,230 315,256 315,262 314,270 310,276 304,279 288,280 248,280.6 228,281 214,280 207,276 204,270" fill="#fff" filter="url(#grain)" opacity="0.2"/>
<g mask="url(#frontm)"><polygon points="204,256 204,232 205,225 207,218 211,211 218,206.5 238,202.4 258,201 278,200.4 304,202 310,205 312,210 313,230 315,256 315,262 314,270 310,276 304,279 288,280 248,280.6 228,281 214,280 207,276 204,270" fill="#fff" filter="url(#mottle)" opacity="0.3"/></g>
<text x="191.2" y="184.5" font-size="12" text-anchor="start" fill="#f2f2f2" stroke="#f2f2f2" stroke-width="0.25">(d)(i)</text>
</g>
<g id="img-ii">
<rect x="333.1" y="171.2" width="91.9" height="68.6" fill="#030303"/>
<g filter="url(#glow)"><circle cx="389" cy="177" r="1.3" fill="#35e03a" opacity="1"/><circle cx="398" cy="178" r="1.1" fill="#1f8a26" opacity="0.9"/><circle cx="393" cy="172" r="0.9" fill="#35e03a" opacity="0.9"/><circle cx="361" cy="199.6" r="1.4" fill="#35e03a" opacity="1"/><circle cx="364.6" cy="201.6" r="1.2" fill="#35e03a" opacity="1"/><circle cx="382" cy="206.2" r="2.1" fill="#d8e23a" opacity="1"/><circle cx="381.6" cy="206.6" r="1" fill="#f2ff60" opacity="1"/><circle cx="417" cy="194" r="1.6" fill="#35e03a" opacity="1"/><circle cx="421" cy="204" r="1.7" fill="#35e03a" opacity="1"/><circle cx="417" cy="204.4" r="1.2" fill="#35e03a" opacity="1"/><circle cx="359.6" cy="212.4" r="1.4" fill="#35e03a" opacity="1"/><circle cx="367" cy="220.4" r="1.3" fill="#35e03a" opacity="1"/><circle cx="369" cy="225.6" r="1.3" fill="#35e03a" opacity="1"/><circle cx="389" cy="225" r="1.1" fill="#e8f0c0" opacity="1"/><circle cx="394" cy="226" r="0.9" fill="#b9a030" opacity="0.9"/><circle cx="395" cy="201" r="1.1" fill="#1f8a26" opacity="0.9"/><circle cx="354" cy="203.6" r="1" fill="#7a1f1f" opacity="0.9"/><circle cx="345" cy="215.6" r="1" fill="#1f8a26" opacity="0.9"/><circle cx="358" cy="229" r="1" fill="#888" opacity="0.7"/><circle cx="417" cy="213" r="1.1" fill="#35e03a" opacity="0.9"/><circle cx="418" cy="219.6" r="1" fill="#1f8a26" opacity="0.9"/><circle cx="348.9" cy="174.6" r="0.9" fill="#35e03a" opacity="0.9"/><circle cx="382" cy="197" r="1" fill="#1f8a26" opacity="0.8"/><circle cx="376" cy="213" r="0.9" fill="#1f8a26" opacity="0.6"/><circle cx="411" cy="186" r="0.9" fill="#7a1f1f" opacity="0.8"/><circle cx="422" cy="192" r="0.9" fill="#666" opacity="0.7"/><circle cx="350.5" cy="184" r="0.8" fill="#d22a2a" opacity="0.7"/><circle cx="340" cy="210" r="0.8" fill="#7a1f1f" opacity="0.6"/><circle cx="372" cy="185" r="0.8" fill="#7a1f1f" opacity="0.5"/><circle cx="400" cy="215" r="0.8" fill="#7a1f1f" opacity="0.5"/><circle cx="386" cy="192" r="0.8" fill="#7a1f1f" opacity="0.6"/></g>
<text x="334.5" y="183.3" font-size="12.8" text-anchor="start" fill="#f2f2f2" stroke="#f2f2f2" stroke-width="0.25">(ii)</text>
<text x="376.7" y="236" font-size="6.7" text-anchor="start" fill="#f2f2f2">Papillary Layer</text>
</g>
<g id="img-iii">
<rect x="428" y="171.2" width="92" height="68.6" fill="#030303"/>
<g filter="url(#glow)"><circle cx="496" cy="171.8" r="1.2" fill="#35e03a" opacity="0.9"/><circle cx="446" cy="172.4" r="0.8" fill="#1f8a26" opacity="0.7"/><circle cx="487" cy="187" r="1.2" fill="#35e03a" opacity="1"/><circle cx="481" cy="190.6" r="0.9" fill="#777" opacity="0.7"/><circle cx="508" cy="189" r="1.1" fill="#1f8a26" opacity="0.9"/><circle cx="513" cy="195.6" r="1.3" fill="#e8f0c0" opacity="1"/><circle cx="506.4" cy="198" r="1.2" fill="#35e03a" opacity="0.9"/><circle cx="514" cy="204.6" r="0.9" fill="#d8e23a" opacity="0.9"/><circle cx="457" cy="201.6" r="1.1" fill="#d8d8c0" opacity="0.9"/><circle cx="454" cy="193" r="0.8" fill="#1f8a26" opacity="0.6"/><circle cx="473" cy="210" r="1.4" fill="#35e03a" opacity="1"/><circle cx="497.6" cy="207" r="1.2" fill="#35e03a" opacity="0.9"/><circle cx="497" cy="213" r="1" fill="#1f8a26" opacity="0.8"/><circle cx="451" cy="218" r="1.3" fill="#35e03a" opacity="0.9"/><circle cx="438" cy="227.6" r="0.9" fill="#555" opacity="0.7"/><circle cx="500" cy="201.6" r="0.9" fill="#1f8a26" opacity="0.6"/><circle cx="461" cy="231" r="0.9" fill="#444" opacity="0.7"/><circle cx="470" cy="205" r="0.8" fill="#7a1f1f" opacity="0.5"/><circle cx="440" cy="210" r="0.8" fill="#223" opacity="0.8"/></g>
<text x="429.8" y="184.2" font-size="12.5" text-anchor="start" fill="#f2f2f2" stroke="#f2f2f2" stroke-width="0.25">(iii)</text>
<text x="473" y="236.1" font-size="6.7" text-anchor="start" fill="#f2f2f2">Reticular layer</text>
</g>
<g id="img-iv">
<rect x="380.9" y="242.8" width="90.1" height="68.2" fill="#030303"/>
<rect x="380.9" y="242.8" width="90.1" height="68.2" fill="url(#haze)"/>
<g filter="url(#glow)"><circle cx="403.4" cy="260" r="1.3" fill="#1f8a26" opacity="0.9"/><circle cx="462" cy="267" r="2.1" fill="#35e03a" opacity="1"/><circle cx="406" cy="285.4" r="1.9" fill="#35e03a" opacity="1"/><circle cx="406.6" cy="284.6" r="1.3" fill="#35e03a" opacity="1"/><circle cx="460.6" cy="291" r="1.8" fill="#d22a2a" opacity="1"/><circle cx="456" cy="260" r="1" fill="#7a1f1f" opacity="0.7"/><circle cx="451" cy="289.6" r="1" fill="#7a1f1f" opacity="0.8"/><circle cx="460" cy="258" r="0.9" fill="#223a88" opacity="0.8"/><circle cx="410" cy="268" r="0.9" fill="#7a1f1f" opacity="0.5"/><circle cx="412" cy="276" r="0.8" fill="#7a1f1f" opacity="0.5"/></g>
<rect x="388.4" y="303.5" width="11" height="1.1" fill="#e8e8e8"/>
<text x="383.6" y="255.2" font-size="12.3" text-anchor="start" fill="#f2f2f2" stroke="#f2f2f2" stroke-width="0.25">(iv)</text>
<text x="415" y="306.8" font-size="6.7" text-anchor="start" fill="#f2f2f2">Hypodermal layer</text>
</g>
</svg>
</body></html>
